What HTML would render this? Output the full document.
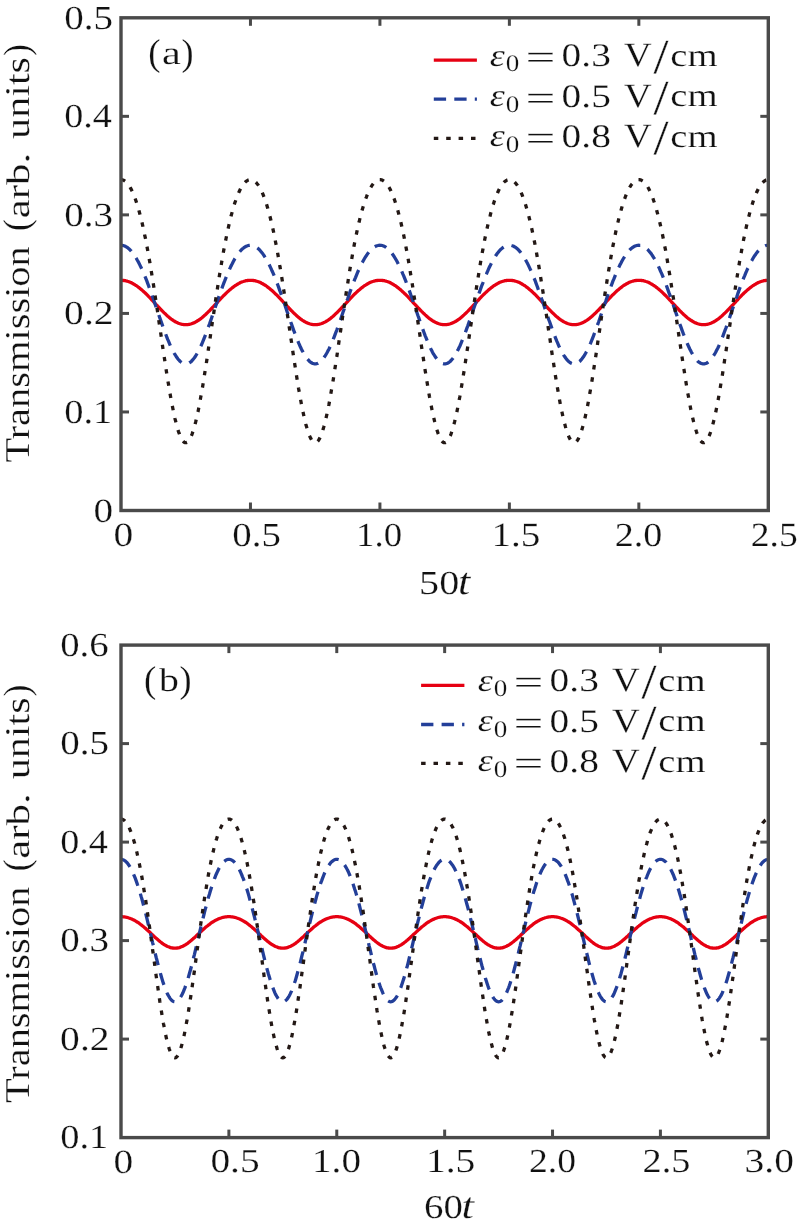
<!DOCTYPE html>
<html lang="en"><head><meta charset="utf-8"><title>Transmission vs time</title>
<style>html,body{margin:0;padding:0;background:#fff}svg{display:block}</style></head>
<body>
<svg width="799" height="1226" viewBox="0 0 799 1226">
<rect width="799" height="1226" fill="#fff"/>
<clipPath id="cp1"><rect x="121.0" y="17.8" width="647.3" height="492.7"/></clipPath>
<g clip-path="url(#cp1)" fill="none" stroke-width="3.3">
<polyline stroke="#e60012" points="121.0,280.3 121.7,280.3 122.4,280.3 123.2,280.4 123.9,280.5 124.6,280.6 125.3,280.7 126.0,280.9 126.8,281.0 127.5,281.3 128.2,281.5 128.9,281.7 129.6,282.0 130.3,282.3 131.1,282.6 131.8,283.0 132.5,283.4 133.2,283.8 133.9,284.2 134.7,284.6 135.4,285.1 136.1,285.5 136.8,286.0 137.5,286.5 138.3,287.1 139.0,287.6 139.7,288.2 140.4,288.8 141.1,289.4 141.9,290.0 142.6,290.6 143.3,291.3 144.0,291.9 144.7,292.6 145.5,293.3 146.2,294.0 146.9,294.7 147.6,295.4 148.3,296.2 149.0,296.9 149.8,297.7 150.5,298.4 151.2,299.2 151.9,300.0 152.6,300.7 153.4,301.5 154.1,302.3 154.8,303.1 155.5,303.8 156.2,304.6 157.0,305.4 157.7,306.2 158.4,306.9 159.1,307.7 159.8,308.5 160.6,309.2 161.3,310.0 162.0,310.7 162.7,311.4 163.4,312.1 164.2,312.9 164.9,313.5 165.6,314.2 166.3,314.9 167.0,315.6 167.7,316.2 168.5,316.8 169.2,317.4 169.9,318.0 170.6,318.6 171.3,319.1 172.1,319.6 172.8,320.1 173.5,320.6 174.2,321.0 174.9,321.5 175.7,321.9 176.4,322.3 177.1,322.6 177.8,322.9 178.5,323.2 179.3,323.5 180.0,323.8 180.7,324.0 181.4,324.2 182.1,324.3 182.9,324.5 183.6,324.6 184.3,324.6 185.0,324.7 185.7,324.7 186.4,324.7 187.2,324.6 187.9,324.6 188.6,324.5 189.3,324.3 190.0,324.2 190.8,324.0 191.5,323.8 192.2,323.5 192.9,323.2 193.6,322.9 194.4,322.6 195.1,322.3 195.8,321.9 196.5,321.5 197.2,321.0 198.0,320.6 198.7,320.1 199.4,319.6 200.1,319.1 200.8,318.6 201.6,318.0 202.3,317.4 203.0,316.8 203.7,316.2 204.4,315.6 205.1,314.9 205.9,314.2 206.6,313.5 207.3,312.9 208.0,312.1 208.7,311.4 209.5,310.7 210.2,310.0 210.9,309.2 211.6,308.5 212.3,307.7 213.1,306.9 213.8,306.2 214.5,305.4 215.2,304.6 215.9,303.8 216.7,303.1 217.4,302.3 218.1,301.5 218.8,300.7 219.5,300.0 220.3,299.2 221.0,298.4 221.7,297.7 222.4,296.9 223.1,296.2 223.8,295.4 224.6,294.7 225.3,294.0 226.0,293.3 226.7,292.6 227.4,291.9 228.2,291.3 228.9,290.6 229.6,290.0 230.3,289.4 231.0,288.8 231.8,288.2 232.5,287.6 233.2,287.1 233.9,286.5 234.6,286.0 235.4,285.5 236.1,285.1 236.8,284.6 237.5,284.2 238.2,283.8 239.0,283.4 239.7,283.0 240.4,282.6 241.1,282.3 241.8,282.0 242.5,281.7 243.3,281.5 244.0,281.3 244.7,281.0 245.4,280.9 246.1,280.7 246.9,280.6 247.6,280.5 248.3,280.4 249.0,280.3 249.7,280.3 250.5,280.3 251.2,280.3 251.9,280.3 252.6,280.4 253.3,280.5 254.1,280.6 254.8,280.7 255.5,280.9 256.2,281.0 256.9,281.3 257.7,281.5 258.4,281.7 259.1,282.0 259.8,282.3 260.5,282.6 261.2,283.0 262.0,283.4 262.7,283.8 263.4,284.2 264.1,284.6 264.8,285.1 265.6,285.5 266.3,286.0 267.0,286.5 267.7,287.1 268.4,287.6 269.2,288.2 269.9,288.8 270.6,289.4 271.3,290.0 272.0,290.6 272.8,291.3 273.5,291.9 274.2,292.6 274.9,293.3 275.6,294.0 276.4,294.7 277.1,295.4 277.8,296.2 278.5,296.9 279.2,297.7 279.9,298.4 280.7,299.2 281.4,300.0 282.1,300.7 282.8,301.5 283.5,302.3 284.3,303.1 285.0,303.8 285.7,304.6 286.4,305.4 287.1,306.2 287.9,306.9 288.6,307.7 289.3,308.5 290.0,309.2 290.7,310.0 291.5,310.7 292.2,311.4 292.9,312.1 293.6,312.9 294.3,313.5 295.1,314.2 295.8,314.9 296.5,315.6 297.2,316.2 297.9,316.8 298.6,317.4 299.4,318.0 300.1,318.6 300.8,319.1 301.5,319.6 302.2,320.1 303.0,320.6 303.7,321.0 304.4,321.5 305.1,321.9 305.8,322.3 306.6,322.6 307.3,322.9 308.0,323.2 308.7,323.5 309.4,323.8 310.2,324.0 310.9,324.2 311.6,324.3 312.3,324.5 313.0,324.6 313.8,324.6 314.5,324.7 315.2,324.7 315.9,324.7 316.6,324.6 317.3,324.6 318.1,324.5 318.8,324.3 319.5,324.2 320.2,324.0 320.9,323.8 321.7,323.5 322.4,323.2 323.1,322.9 323.8,322.6 324.5,322.3 325.3,321.9 326.0,321.5 326.7,321.0 327.4,320.6 328.1,320.1 328.9,319.6 329.6,319.1 330.3,318.6 331.0,318.0 331.7,317.4 332.5,316.8 333.2,316.2 333.9,315.6 334.6,314.9 335.3,314.2 336.0,313.5 336.8,312.9 337.5,312.1 338.2,311.4 338.9,310.7 339.6,310.0 340.4,309.2 341.1,308.5 341.8,307.7 342.5,306.9 343.2,306.2 344.0,305.4 344.7,304.6 345.4,303.8 346.1,303.1 346.8,302.3 347.6,301.5 348.3,300.7 349.0,300.0 349.7,299.2 350.4,298.4 351.2,297.7 351.9,296.9 352.6,296.2 353.3,295.4 354.0,294.7 354.7,294.0 355.5,293.3 356.2,292.6 356.9,291.9 357.6,291.3 358.3,290.6 359.1,290.0 359.8,289.4 360.5,288.8 361.2,288.2 361.9,287.6 362.7,287.1 363.4,286.5 364.1,286.0 364.8,285.5 365.5,285.1 366.3,284.6 367.0,284.2 367.7,283.8 368.4,283.4 369.1,283.0 369.9,282.6 370.6,282.3 371.3,282.0 372.0,281.7 372.7,281.5 373.4,281.3 374.2,281.0 374.9,280.9 375.6,280.7 376.3,280.6 377.0,280.5 377.8,280.4 378.5,280.3 379.2,280.3 379.9,280.3 380.6,280.3 381.4,280.3 382.1,280.4 382.8,280.5 383.5,280.6 384.2,280.7 385.0,280.9 385.7,281.0 386.4,281.3 387.1,281.5 387.8,281.7 388.6,282.0 389.3,282.3 390.0,282.6 390.7,283.0 391.4,283.4 392.1,283.8 392.9,284.2 393.6,284.6 394.3,285.1 395.0,285.5 395.7,286.0 396.5,286.5 397.2,287.1 397.9,287.6 398.6,288.2 399.3,288.8 400.1,289.4 400.8,290.0 401.5,290.6 402.2,291.3 402.9,291.9 403.7,292.6 404.4,293.3 405.1,294.0 405.8,294.7 406.5,295.4 407.3,296.2 408.0,296.9 408.7,297.7 409.4,298.4 410.1,299.2 410.8,300.0 411.6,300.7 412.3,301.5 413.0,302.3 413.7,303.1 414.4,303.8 415.2,304.6 415.9,305.4 416.6,306.2 417.3,306.9 418.0,307.7 418.8,308.5 419.5,309.2 420.2,310.0 420.9,310.7 421.6,311.4 422.4,312.1 423.1,312.9 423.8,313.5 424.5,314.2 425.2,314.9 426.0,315.6 426.7,316.2 427.4,316.8 428.1,317.4 428.8,318.0 429.5,318.6 430.3,319.1 431.0,319.6 431.7,320.1 432.4,320.6 433.1,321.0 433.9,321.5 434.6,321.9 435.3,322.3 436.0,322.6 436.7,322.9 437.5,323.2 438.2,323.5 438.9,323.8 439.6,324.0 440.3,324.2 441.1,324.3 441.8,324.5 442.5,324.6 443.2,324.6 443.9,324.7 444.6,324.7 445.4,324.7 446.1,324.6 446.8,324.6 447.5,324.5 448.2,324.3 449.0,324.2 449.7,324.0 450.4,323.8 451.1,323.5 451.8,323.2 452.6,322.9 453.3,322.6 454.0,322.3 454.7,321.9 455.4,321.5 456.2,321.0 456.9,320.6 457.6,320.1 458.3,319.6 459.0,319.1 459.8,318.6 460.5,318.0 461.2,317.4 461.9,316.8 462.6,316.2 463.3,315.6 464.1,314.9 464.8,314.2 465.5,313.5 466.2,312.9 466.9,312.1 467.7,311.4 468.4,310.7 469.1,310.0 469.8,309.2 470.5,308.5 471.3,307.7 472.0,306.9 472.7,306.2 473.4,305.4 474.1,304.6 474.9,303.8 475.6,303.1 476.3,302.3 477.0,301.5 477.7,300.7 478.5,300.0 479.2,299.2 479.9,298.4 480.6,297.7 481.3,296.9 482.0,296.2 482.8,295.4 483.5,294.7 484.2,294.0 484.9,293.3 485.6,292.6 486.4,291.9 487.1,291.3 487.8,290.6 488.5,290.0 489.2,289.4 490.0,288.8 490.7,288.2 491.4,287.6 492.1,287.1 492.8,286.5 493.6,286.0 494.3,285.5 495.0,285.1 495.7,284.6 496.4,284.2 497.2,283.8 497.9,283.4 498.6,283.0 499.3,282.6 500.0,282.3 500.7,282.0 501.5,281.7 502.2,281.5 502.9,281.3 503.6,281.0 504.3,280.9 505.1,280.7 505.8,280.6 506.5,280.5 507.2,280.4 507.9,280.3 508.7,280.3 509.4,280.3 510.1,280.3 510.8,280.3 511.5,280.4 512.3,280.5 513.0,280.6 513.7,280.7 514.4,280.9 515.1,281.0 515.9,281.3 516.6,281.5 517.3,281.7 518.0,282.0 518.7,282.3 519.4,282.6 520.2,283.0 520.9,283.4 521.6,283.8 522.3,284.2 523.0,284.6 523.8,285.1 524.5,285.5 525.2,286.0 525.9,286.5 526.6,287.1 527.4,287.6 528.1,288.2 528.8,288.8 529.5,289.4 530.2,290.0 531.0,290.6 531.7,291.3 532.4,291.9 533.1,292.6 533.8,293.3 534.6,294.0 535.3,294.7 536.0,295.4 536.7,296.2 537.4,296.9 538.1,297.7 538.9,298.4 539.6,299.2 540.3,300.0 541.0,300.7 541.7,301.5 542.5,302.3 543.2,303.1 543.9,303.8 544.6,304.6 545.3,305.4 546.1,306.2 546.8,306.9 547.5,307.7 548.2,308.5 548.9,309.2 549.7,310.0 550.4,310.7 551.1,311.4 551.8,312.1 552.5,312.9 553.3,313.5 554.0,314.2 554.7,314.9 555.4,315.6 556.1,316.2 556.8,316.8 557.6,317.4 558.3,318.0 559.0,318.6 559.7,319.1 560.4,319.6 561.2,320.1 561.9,320.6 562.6,321.0 563.3,321.5 564.0,321.9 564.8,322.3 565.5,322.6 566.2,322.9 566.9,323.2 567.6,323.5 568.4,323.8 569.1,324.0 569.8,324.2 570.5,324.3 571.2,324.5 572.0,324.6 572.7,324.6 573.4,324.7 574.1,324.7 574.8,324.7 575.5,324.6 576.3,324.6 577.0,324.5 577.7,324.3 578.4,324.2 579.1,324.0 579.9,323.8 580.6,323.5 581.3,323.2 582.0,322.9 582.7,322.6 583.5,322.3 584.2,321.9 584.9,321.5 585.6,321.0 586.3,320.6 587.1,320.1 587.8,319.6 588.5,319.1 589.2,318.6 589.9,318.0 590.7,317.4 591.4,316.8 592.1,316.2 592.8,315.6 593.5,314.9 594.2,314.2 595.0,313.5 595.7,312.9 596.4,312.1 597.1,311.4 597.8,310.7 598.6,310.0 599.3,309.2 600.0,308.5 600.7,307.7 601.4,306.9 602.2,306.2 602.9,305.4 603.6,304.6 604.3,303.8 605.0,303.1 605.8,302.3 606.5,301.5 607.2,300.7 607.9,300.0 608.6,299.2 609.4,298.4 610.1,297.7 610.8,296.9 611.5,296.2 612.2,295.4 612.9,294.7 613.7,294.0 614.4,293.3 615.1,292.6 615.8,291.9 616.5,291.3 617.3,290.6 618.0,290.0 618.7,289.4 619.4,288.8 620.1,288.2 620.9,287.6 621.6,287.1 622.3,286.5 623.0,286.0 623.7,285.5 624.5,285.1 625.2,284.6 625.9,284.2 626.6,283.8 627.3,283.4 628.1,283.0 628.8,282.6 629.5,282.3 630.2,282.0 630.9,281.7 631.6,281.5 632.4,281.3 633.1,281.0 633.8,280.9 634.5,280.7 635.2,280.6 636.0,280.5 636.7,280.4 637.4,280.3 638.1,280.3 638.8,280.3 639.6,280.3 640.3,280.3 641.0,280.4 641.7,280.5 642.4,280.6 643.2,280.7 643.9,280.9 644.6,281.0 645.3,281.3 646.0,281.5 646.8,281.7 647.5,282.0 648.2,282.3 648.9,282.6 649.6,283.0 650.3,283.4 651.1,283.8 651.8,284.2 652.5,284.6 653.2,285.1 653.9,285.5 654.7,286.0 655.4,286.5 656.1,287.1 656.8,287.6 657.5,288.2 658.3,288.8 659.0,289.4 659.7,290.0 660.4,290.6 661.1,291.3 661.9,291.9 662.6,292.6 663.3,293.3 664.0,294.0 664.7,294.7 665.5,295.4 666.2,296.2 666.9,296.9 667.6,297.7 668.3,298.4 669.0,299.2 669.8,300.0 670.5,300.7 671.2,301.5 671.9,302.3 672.6,303.1 673.4,303.8 674.1,304.6 674.8,305.4 675.5,306.2 676.2,306.9 677.0,307.7 677.7,308.5 678.4,309.2 679.1,310.0 679.8,310.7 680.6,311.4 681.3,312.1 682.0,312.9 682.7,313.5 683.4,314.2 684.2,314.9 684.9,315.6 685.6,316.2 686.3,316.8 687.0,317.4 687.7,318.0 688.5,318.6 689.2,319.1 689.9,319.6 690.6,320.1 691.3,320.6 692.1,321.0 692.8,321.5 693.5,321.9 694.2,322.3 694.9,322.6 695.7,322.9 696.4,323.2 697.1,323.5 697.8,323.8 698.5,324.0 699.3,324.2 700.0,324.3 700.7,324.5 701.4,324.6 702.1,324.6 702.9,324.7 703.6,324.7 704.3,324.7 705.0,324.6 705.7,324.6 706.4,324.5 707.2,324.3 707.9,324.2 708.6,324.0 709.3,323.8 710.0,323.5 710.8,323.2 711.5,322.9 712.2,322.6 712.9,322.3 713.6,321.9 714.4,321.5 715.1,321.0 715.8,320.6 716.5,320.1 717.2,319.6 718.0,319.1 718.7,318.6 719.4,318.0 720.1,317.4 720.8,316.8 721.6,316.2 722.3,315.6 723.0,314.9 723.7,314.2 724.4,313.5 725.1,312.9 725.9,312.1 726.6,311.4 727.3,310.7 728.0,310.0 728.7,309.2 729.5,308.5 730.2,307.7 730.9,306.9 731.6,306.2 732.3,305.4 733.1,304.6 733.8,303.8 734.5,303.1 735.2,302.3 735.9,301.5 736.7,300.7 737.4,300.0 738.1,299.2 738.8,298.4 739.5,297.7 740.3,296.9 741.0,296.2 741.7,295.4 742.4,294.7 743.1,294.0 743.8,293.3 744.6,292.6 745.3,291.9 746.0,291.3 746.7,290.6 747.4,290.0 748.2,289.4 748.9,288.8 749.6,288.2 750.3,287.6 751.0,287.1 751.8,286.5 752.5,286.0 753.2,285.5 753.9,285.1 754.6,284.6 755.4,284.2 756.1,283.8 756.8,283.4 757.5,283.0 758.2,282.6 759.0,282.3 759.7,282.0 760.4,281.7 761.1,281.5 761.8,281.3 762.5,281.0 763.3,280.9 764.0,280.7 764.7,280.6 765.4,280.5 766.1,280.4 766.9,280.3 767.6,280.3 768.3,280.3"/>
<polyline stroke="#233f99" stroke-dasharray="12.3 8.2" points="121.0,245.2 121.7,245.3 122.4,245.3 123.2,245.5 123.9,245.7 124.6,246.0 125.3,246.3 126.0,246.7 126.8,247.1 127.5,247.6 128.2,248.2 128.9,248.8 129.6,249.4 130.3,250.2 131.1,251.0 131.8,251.8 132.5,252.7 133.2,253.6 133.9,254.7 134.7,255.7 135.4,256.8 136.1,258.0 136.8,259.2 137.5,260.5 138.3,261.8 139.0,263.2 139.7,264.6 140.4,266.1 141.1,267.6 141.9,269.1 142.6,270.8 143.3,272.4 144.0,274.1 144.7,275.8 145.5,277.6 146.2,279.4 146.9,281.2 147.6,283.1 148.3,285.0 149.0,286.9 149.8,288.9 150.5,290.9 151.2,292.9 151.9,294.9 152.6,297.0 153.4,299.0 154.1,301.1 154.8,303.2 155.5,305.3 156.2,307.4 157.0,309.5 157.7,311.6 158.4,313.7 159.1,315.8 159.8,317.9 160.6,320.0 161.3,322.0 162.0,324.1 162.7,326.1 163.4,328.1 164.2,330.1 164.9,332.0 165.6,333.9 166.3,335.8 167.0,337.6 167.7,339.4 168.5,341.2 169.2,342.9 169.9,344.6 170.6,346.2 171.3,347.7 172.1,349.2 172.8,350.6 173.5,352.0 174.2,353.3 174.9,354.5 175.7,355.7 176.4,356.8 177.1,357.8 177.8,358.8 178.5,359.6 179.3,360.4 180.0,361.2 180.7,361.8 181.4,362.3 182.1,362.8 182.9,363.2 183.6,363.5 184.3,363.7 185.0,363.8 185.7,363.9 186.4,363.8 187.2,363.7 187.9,363.5 188.6,363.2 189.3,362.8 190.0,362.3 190.8,361.8 191.5,361.2 192.2,360.4 192.9,359.6 193.6,358.8 194.4,357.8 195.1,356.8 195.8,355.7 196.5,354.5 197.2,353.3 198.0,352.0 198.7,350.6 199.4,349.2 200.1,347.7 200.8,346.2 201.6,344.6 202.3,342.9 203.0,341.2 203.7,339.4 204.4,337.6 205.1,335.8 205.9,333.9 206.6,332.0 207.3,330.1 208.0,328.1 208.7,326.1 209.5,324.1 210.2,322.0 210.9,320.0 211.6,317.9 212.3,315.8 213.1,313.7 213.8,311.6 214.5,309.5 215.2,307.4 215.9,305.3 216.7,303.2 217.4,301.1 218.1,299.0 218.8,297.0 219.5,294.9 220.3,292.9 221.0,290.9 221.7,288.9 222.4,286.9 223.1,285.0 223.8,283.1 224.6,281.2 225.3,279.4 226.0,277.6 226.7,275.8 227.4,274.1 228.2,272.4 228.9,270.8 229.6,269.1 230.3,267.6 231.0,266.1 231.8,264.6 232.5,263.2 233.2,261.8 233.9,260.5 234.6,259.2 235.4,258.0 236.1,256.8 236.8,255.7 237.5,254.7 238.2,253.6 239.0,252.7 239.7,251.8 240.4,251.0 241.1,250.2 241.8,249.4 242.5,248.8 243.3,248.2 244.0,247.6 244.7,247.1 245.4,246.7 246.1,246.3 246.9,246.0 247.6,245.7 248.3,245.5 249.0,245.3 249.7,245.3 250.5,245.2 251.2,245.3 251.9,245.3 252.6,245.5 253.3,245.7 254.1,246.0 254.8,246.3 255.5,246.7 256.2,247.1 256.9,247.6 257.7,248.2 258.4,248.8 259.1,249.4 259.8,250.2 260.5,251.0 261.2,251.8 262.0,252.7 262.7,253.6 263.4,254.7 264.1,255.7 264.8,256.8 265.6,258.0 266.3,259.2 267.0,260.5 267.7,261.8 268.4,263.2 269.2,264.6 269.9,266.1 270.6,267.6 271.3,269.1 272.0,270.8 272.8,272.4 273.5,274.1 274.2,275.8 274.9,277.6 275.6,279.4 276.4,281.2 277.1,283.1 277.8,285.0 278.5,286.9 279.2,288.9 279.9,290.9 280.7,292.9 281.4,294.9 282.1,297.0 282.8,299.0 283.5,301.1 284.3,303.2 285.0,305.3 285.7,307.4 286.4,309.5 287.1,311.6 287.9,313.7 288.6,315.8 289.3,317.9 290.0,320.0 290.7,322.0 291.5,324.1 292.2,326.1 292.9,328.1 293.6,330.1 294.3,332.0 295.1,333.9 295.8,335.8 296.5,337.6 297.2,339.4 297.9,341.2 298.6,342.9 299.4,344.6 300.1,346.2 300.8,347.7 301.5,349.2 302.2,350.6 303.0,352.0 303.7,353.3 304.4,354.5 305.1,355.7 305.8,356.8 306.6,357.8 307.3,358.8 308.0,359.6 308.7,360.4 309.4,361.2 310.2,361.8 310.9,362.3 311.6,362.8 312.3,363.2 313.0,363.5 313.8,363.7 314.5,363.8 315.2,363.9 315.9,363.8 316.6,363.7 317.3,363.5 318.1,363.2 318.8,362.8 319.5,362.3 320.2,361.8 320.9,361.2 321.7,360.4 322.4,359.6 323.1,358.8 323.8,357.8 324.5,356.8 325.3,355.7 326.0,354.5 326.7,353.3 327.4,352.0 328.1,350.6 328.9,349.2 329.6,347.7 330.3,346.2 331.0,344.6 331.7,342.9 332.5,341.2 333.2,339.4 333.9,337.6 334.6,335.8 335.3,333.9 336.0,332.0 336.8,330.1 337.5,328.1 338.2,326.1 338.9,324.1 339.6,322.0 340.4,320.0 341.1,317.9 341.8,315.8 342.5,313.7 343.2,311.6 344.0,309.5 344.7,307.4 345.4,305.3 346.1,303.2 346.8,301.1 347.6,299.0 348.3,297.0 349.0,294.9 349.7,292.9 350.4,290.9 351.2,288.9 351.9,286.9 352.6,285.0 353.3,283.1 354.0,281.2 354.7,279.4 355.5,277.6 356.2,275.8 356.9,274.1 357.6,272.4 358.3,270.8 359.1,269.1 359.8,267.6 360.5,266.1 361.2,264.6 361.9,263.2 362.7,261.8 363.4,260.5 364.1,259.2 364.8,258.0 365.5,256.8 366.3,255.7 367.0,254.7 367.7,253.6 368.4,252.7 369.1,251.8 369.9,251.0 370.6,250.2 371.3,249.4 372.0,248.8 372.7,248.2 373.4,247.6 374.2,247.1 374.9,246.7 375.6,246.3 376.3,246.0 377.0,245.7 377.8,245.5 378.5,245.3 379.2,245.3 379.9,245.2 380.6,245.3 381.4,245.3 382.1,245.5 382.8,245.7 383.5,246.0 384.2,246.3 385.0,246.7 385.7,247.1 386.4,247.6 387.1,248.2 387.8,248.8 388.6,249.4 389.3,250.2 390.0,251.0 390.7,251.8 391.4,252.7 392.1,253.6 392.9,254.7 393.6,255.7 394.3,256.8 395.0,258.0 395.7,259.2 396.5,260.5 397.2,261.8 397.9,263.2 398.6,264.6 399.3,266.1 400.1,267.6 400.8,269.1 401.5,270.8 402.2,272.4 402.9,274.1 403.7,275.8 404.4,277.6 405.1,279.4 405.8,281.2 406.5,283.1 407.3,285.0 408.0,286.9 408.7,288.9 409.4,290.9 410.1,292.9 410.8,294.9 411.6,297.0 412.3,299.0 413.0,301.1 413.7,303.2 414.4,305.3 415.2,307.4 415.9,309.5 416.6,311.6 417.3,313.7 418.0,315.8 418.8,317.9 419.5,320.0 420.2,322.0 420.9,324.1 421.6,326.1 422.4,328.1 423.1,330.1 423.8,332.0 424.5,333.9 425.2,335.8 426.0,337.6 426.7,339.4 427.4,341.2 428.1,342.9 428.8,344.6 429.5,346.2 430.3,347.7 431.0,349.2 431.7,350.6 432.4,352.0 433.1,353.3 433.9,354.5 434.6,355.7 435.3,356.8 436.0,357.8 436.7,358.8 437.5,359.6 438.2,360.4 438.9,361.2 439.6,361.8 440.3,362.3 441.1,362.8 441.8,363.2 442.5,363.5 443.2,363.7 443.9,363.8 444.6,363.9 445.4,363.8 446.1,363.7 446.8,363.5 447.5,363.2 448.2,362.8 449.0,362.3 449.7,361.8 450.4,361.2 451.1,360.4 451.8,359.6 452.6,358.8 453.3,357.8 454.0,356.8 454.7,355.7 455.4,354.5 456.2,353.3 456.9,352.0 457.6,350.6 458.3,349.2 459.0,347.7 459.8,346.2 460.5,344.6 461.2,342.9 461.9,341.2 462.6,339.4 463.3,337.6 464.1,335.8 464.8,333.9 465.5,332.0 466.2,330.1 466.9,328.1 467.7,326.1 468.4,324.1 469.1,322.0 469.8,320.0 470.5,317.9 471.3,315.8 472.0,313.7 472.7,311.6 473.4,309.5 474.1,307.4 474.9,305.3 475.6,303.2 476.3,301.1 477.0,299.0 477.7,297.0 478.5,294.9 479.2,292.9 479.9,290.9 480.6,288.9 481.3,286.9 482.0,285.0 482.8,283.1 483.5,281.2 484.2,279.4 484.9,277.6 485.6,275.8 486.4,274.1 487.1,272.4 487.8,270.8 488.5,269.1 489.2,267.6 490.0,266.1 490.7,264.6 491.4,263.2 492.1,261.8 492.8,260.5 493.6,259.2 494.3,258.0 495.0,256.8 495.7,255.7 496.4,254.7 497.2,253.6 497.9,252.7 498.6,251.8 499.3,251.0 500.0,250.2 500.7,249.4 501.5,248.8 502.2,248.2 502.9,247.6 503.6,247.1 504.3,246.7 505.1,246.3 505.8,246.0 506.5,245.7 507.2,245.5 507.9,245.3 508.7,245.3 509.4,245.2 510.1,245.3 510.8,245.3 511.5,245.5 512.3,245.7 513.0,246.0 513.7,246.3 514.4,246.7 515.1,247.1 515.9,247.6 516.6,248.2 517.3,248.8 518.0,249.4 518.7,250.2 519.4,251.0 520.2,251.8 520.9,252.7 521.6,253.6 522.3,254.7 523.0,255.7 523.8,256.8 524.5,258.0 525.2,259.2 525.9,260.5 526.6,261.8 527.4,263.2 528.1,264.6 528.8,266.1 529.5,267.6 530.2,269.1 531.0,270.8 531.7,272.4 532.4,274.1 533.1,275.8 533.8,277.6 534.6,279.4 535.3,281.2 536.0,283.1 536.7,285.0 537.4,286.9 538.1,288.9 538.9,290.9 539.6,292.9 540.3,294.9 541.0,297.0 541.7,299.0 542.5,301.1 543.2,303.2 543.9,305.3 544.6,307.4 545.3,309.5 546.1,311.6 546.8,313.7 547.5,315.8 548.2,317.9 548.9,320.0 549.7,322.0 550.4,324.1 551.1,326.1 551.8,328.1 552.5,330.1 553.3,332.0 554.0,333.9 554.7,335.8 555.4,337.6 556.1,339.4 556.8,341.2 557.6,342.9 558.3,344.6 559.0,346.2 559.7,347.7 560.4,349.2 561.2,350.6 561.9,352.0 562.6,353.3 563.3,354.5 564.0,355.7 564.8,356.8 565.5,357.8 566.2,358.8 566.9,359.6 567.6,360.4 568.4,361.2 569.1,361.8 569.8,362.3 570.5,362.8 571.2,363.2 572.0,363.5 572.7,363.7 573.4,363.8 574.1,363.9 574.8,363.8 575.5,363.7 576.3,363.5 577.0,363.2 577.7,362.8 578.4,362.3 579.1,361.8 579.9,361.2 580.6,360.4 581.3,359.6 582.0,358.8 582.7,357.8 583.5,356.8 584.2,355.7 584.9,354.5 585.6,353.3 586.3,352.0 587.1,350.6 587.8,349.2 588.5,347.7 589.2,346.2 589.9,344.6 590.7,342.9 591.4,341.2 592.1,339.4 592.8,337.6 593.5,335.8 594.2,333.9 595.0,332.0 595.7,330.1 596.4,328.1 597.1,326.1 597.8,324.1 598.6,322.0 599.3,320.0 600.0,317.9 600.7,315.8 601.4,313.7 602.2,311.6 602.9,309.5 603.6,307.4 604.3,305.3 605.0,303.2 605.8,301.1 606.5,299.0 607.2,297.0 607.9,294.9 608.6,292.9 609.4,290.9 610.1,288.9 610.8,286.9 611.5,285.0 612.2,283.1 612.9,281.2 613.7,279.4 614.4,277.6 615.1,275.8 615.8,274.1 616.5,272.4 617.3,270.8 618.0,269.1 618.7,267.6 619.4,266.1 620.1,264.6 620.9,263.2 621.6,261.8 622.3,260.5 623.0,259.2 623.7,258.0 624.5,256.8 625.2,255.7 625.9,254.7 626.6,253.6 627.3,252.7 628.1,251.8 628.8,251.0 629.5,250.2 630.2,249.4 630.9,248.8 631.6,248.2 632.4,247.6 633.1,247.1 633.8,246.7 634.5,246.3 635.2,246.0 636.0,245.7 636.7,245.5 637.4,245.3 638.1,245.3 638.8,245.2 639.6,245.3 640.3,245.3 641.0,245.5 641.7,245.7 642.4,246.0 643.2,246.3 643.9,246.7 644.6,247.1 645.3,247.6 646.0,248.2 646.8,248.8 647.5,249.4 648.2,250.2 648.9,251.0 649.6,251.8 650.3,252.7 651.1,253.6 651.8,254.7 652.5,255.7 653.2,256.8 653.9,258.0 654.7,259.2 655.4,260.5 656.1,261.8 656.8,263.2 657.5,264.6 658.3,266.1 659.0,267.6 659.7,269.1 660.4,270.8 661.1,272.4 661.9,274.1 662.6,275.8 663.3,277.6 664.0,279.4 664.7,281.2 665.5,283.1 666.2,285.0 666.9,286.9 667.6,288.9 668.3,290.9 669.0,292.9 669.8,294.9 670.5,297.0 671.2,299.0 671.9,301.1 672.6,303.2 673.4,305.3 674.1,307.4 674.8,309.5 675.5,311.6 676.2,313.7 677.0,315.8 677.7,317.9 678.4,320.0 679.1,322.0 679.8,324.1 680.6,326.1 681.3,328.1 682.0,330.1 682.7,332.0 683.4,333.9 684.2,335.8 684.9,337.6 685.6,339.4 686.3,341.2 687.0,342.9 687.7,344.6 688.5,346.2 689.2,347.7 689.9,349.2 690.6,350.6 691.3,352.0 692.1,353.3 692.8,354.5 693.5,355.7 694.2,356.8 694.9,357.8 695.7,358.8 696.4,359.6 697.1,360.4 697.8,361.2 698.5,361.8 699.3,362.3 700.0,362.8 700.7,363.2 701.4,363.5 702.1,363.7 702.9,363.8 703.6,363.9 704.3,363.8 705.0,363.7 705.7,363.5 706.4,363.2 707.2,362.8 707.9,362.3 708.6,361.8 709.3,361.2 710.0,360.4 710.8,359.6 711.5,358.8 712.2,357.8 712.9,356.8 713.6,355.7 714.4,354.5 715.1,353.3 715.8,352.0 716.5,350.6 717.2,349.2 718.0,347.7 718.7,346.2 719.4,344.6 720.1,342.9 720.8,341.2 721.6,339.4 722.3,337.6 723.0,335.8 723.7,333.9 724.4,332.0 725.1,330.1 725.9,328.1 726.6,326.1 727.3,324.1 728.0,322.0 728.7,320.0 729.5,317.9 730.2,315.8 730.9,313.7 731.6,311.6 732.3,309.5 733.1,307.4 733.8,305.3 734.5,303.2 735.2,301.1 735.9,299.0 736.7,297.0 737.4,294.9 738.1,292.9 738.8,290.9 739.5,288.9 740.3,286.9 741.0,285.0 741.7,283.1 742.4,281.2 743.1,279.4 743.8,277.6 744.6,275.8 745.3,274.1 746.0,272.4 746.7,270.8 747.4,269.1 748.2,267.6 748.9,266.1 749.6,264.6 750.3,263.2 751.0,261.8 751.8,260.5 752.5,259.2 753.2,258.0 753.9,256.8 754.6,255.7 755.4,254.7 756.1,253.6 756.8,252.7 757.5,251.8 758.2,251.0 759.0,250.2 759.7,249.4 760.4,248.8 761.1,248.2 761.8,247.6 762.5,247.1 763.3,246.7 764.0,246.3 764.7,246.0 765.4,245.7 766.1,245.5 766.9,245.3 767.6,245.3 768.3,245.2"/>
<polyline stroke="#231815" stroke-dasharray="4.5 7.9" points="121.0,179.6 121.7,179.6 122.4,179.8 123.2,180.0 123.9,180.4 124.6,180.8 125.3,181.3 126.0,181.9 126.8,182.6 127.5,183.5 128.2,184.4 128.9,185.4 129.6,186.5 130.3,187.7 131.1,189.1 131.8,190.5 132.5,192.0 133.2,193.7 133.9,195.4 134.7,197.3 135.4,199.2 136.1,201.3 136.8,203.5 137.5,205.8 138.3,208.2 139.0,210.8 139.7,213.4 140.4,216.2 141.1,219.0 141.9,222.0 142.6,225.1 143.3,228.3 144.0,231.7 144.7,235.1 145.5,238.7 146.2,242.3 146.9,246.1 147.6,249.9 148.3,253.9 149.0,258.0 149.8,262.1 150.5,266.4 151.2,270.7 151.9,275.1 152.6,279.6 153.4,284.2 154.1,288.8 154.8,293.5 155.5,298.2 156.2,303.0 157.0,307.8 157.7,312.7 158.4,317.6 159.1,322.5 159.8,327.4 160.6,332.3 161.3,337.2 162.0,342.1 162.7,347.0 163.4,351.9 164.2,356.7 164.9,361.4 165.6,366.2 166.3,370.8 167.0,375.4 167.7,379.9 168.5,384.3 169.2,388.6 169.9,392.8 170.6,396.8 171.3,400.8 172.1,404.6 172.8,408.3 173.5,411.8 174.2,415.1 174.9,418.3 175.7,421.4 176.4,424.2 177.1,426.9 177.8,429.3 178.5,431.6 179.3,433.7 180.0,435.6 180.7,437.2 181.4,438.7 182.1,439.9 182.9,440.9 183.6,441.7 184.3,442.3 185.0,442.6 185.7,442.7 186.4,442.6 187.2,442.3 187.9,441.7 188.6,440.9 189.3,439.9 190.0,438.7 190.8,437.2 191.5,435.6 192.2,433.7 192.9,431.6 193.6,429.3 194.4,426.9 195.1,424.2 195.8,421.4 196.5,418.3 197.2,415.1 198.0,411.8 198.7,408.3 199.4,404.6 200.1,400.8 200.8,396.8 201.6,392.8 202.3,388.6 203.0,384.3 203.7,379.9 204.4,375.4 205.1,370.8 205.9,366.2 206.6,361.4 207.3,356.7 208.0,351.9 208.7,347.0 209.5,342.1 210.2,337.2 210.9,332.3 211.6,327.4 212.3,322.5 213.1,317.6 213.8,312.7 214.5,307.8 215.2,303.0 215.9,298.2 216.7,293.5 217.4,288.8 218.1,284.2 218.8,279.6 219.5,275.1 220.3,270.7 221.0,266.4 221.7,262.1 222.4,258.0 223.1,253.9 223.8,249.9 224.6,246.1 225.3,242.3 226.0,238.7 226.7,235.1 227.4,231.7 228.2,228.3 228.9,225.1 229.6,222.0 230.3,219.0 231.0,216.2 231.8,213.4 232.5,210.8 233.2,208.2 233.9,205.8 234.6,203.5 235.4,201.3 236.1,199.2 236.8,197.3 237.5,195.4 238.2,193.7 239.0,192.0 239.7,190.5 240.4,189.1 241.1,187.7 241.8,186.5 242.5,185.4 243.3,184.4 244.0,183.5 244.7,182.6 245.4,181.9 246.1,181.3 246.9,180.8 247.6,180.4 248.3,180.0 249.0,179.8 249.7,179.6 250.5,179.6 251.2,179.6 251.9,179.8 252.6,180.0 253.3,180.4 254.1,180.8 254.8,181.3 255.5,181.9 256.2,182.6 256.9,183.5 257.7,184.4 258.4,185.4 259.1,186.5 259.8,187.7 260.5,189.1 261.2,190.5 262.0,192.0 262.7,193.7 263.4,195.4 264.1,197.3 264.8,199.2 265.6,201.3 266.3,203.5 267.0,205.8 267.7,208.2 268.4,210.8 269.2,213.4 269.9,216.2 270.6,219.0 271.3,222.0 272.0,225.1 272.8,228.3 273.5,231.7 274.2,235.1 274.9,238.7 275.6,242.3 276.4,246.1 277.1,249.9 277.8,253.9 278.5,258.0 279.2,262.1 279.9,266.4 280.7,270.7 281.4,275.1 282.1,279.6 282.8,284.2 283.5,288.8 284.3,293.5 285.0,298.2 285.7,303.0 286.4,307.8 287.1,312.7 287.9,317.6 288.6,322.5 289.3,327.4 290.0,332.3 290.7,337.2 291.5,342.1 292.2,347.0 292.9,351.9 293.6,356.7 294.3,361.4 295.1,366.2 295.8,370.8 296.5,375.4 297.2,379.9 297.9,384.3 298.6,388.6 299.4,392.8 300.1,396.8 300.8,400.8 301.5,404.6 302.2,408.3 303.0,411.8 303.7,415.1 304.4,418.3 305.1,421.4 305.8,424.2 306.6,426.9 307.3,429.3 308.0,431.6 308.7,433.7 309.4,435.6 310.2,437.2 310.9,438.7 311.6,439.9 312.3,440.9 313.0,441.7 313.8,442.3 314.5,442.6 315.2,442.7 315.9,442.6 316.6,442.3 317.3,441.7 318.1,440.9 318.8,439.9 319.5,438.7 320.2,437.2 320.9,435.6 321.7,433.7 322.4,431.6 323.1,429.3 323.8,426.9 324.5,424.2 325.3,421.4 326.0,418.3 326.7,415.1 327.4,411.8 328.1,408.3 328.9,404.6 329.6,400.8 330.3,396.8 331.0,392.8 331.7,388.6 332.5,384.3 333.2,379.9 333.9,375.4 334.6,370.8 335.3,366.2 336.0,361.4 336.8,356.7 337.5,351.9 338.2,347.0 338.9,342.1 339.6,337.2 340.4,332.3 341.1,327.4 341.8,322.5 342.5,317.6 343.2,312.7 344.0,307.8 344.7,303.0 345.4,298.2 346.1,293.5 346.8,288.8 347.6,284.2 348.3,279.6 349.0,275.1 349.7,270.7 350.4,266.4 351.2,262.1 351.9,258.0 352.6,253.9 353.3,249.9 354.0,246.1 354.7,242.3 355.5,238.7 356.2,235.1 356.9,231.7 357.6,228.3 358.3,225.1 359.1,222.0 359.8,219.0 360.5,216.2 361.2,213.4 361.9,210.8 362.7,208.2 363.4,205.8 364.1,203.5 364.8,201.3 365.5,199.2 366.3,197.3 367.0,195.4 367.7,193.7 368.4,192.0 369.1,190.5 369.9,189.1 370.6,187.7 371.3,186.5 372.0,185.4 372.7,184.4 373.4,183.5 374.2,182.6 374.9,181.9 375.6,181.3 376.3,180.8 377.0,180.4 377.8,180.0 378.5,179.8 379.2,179.6 379.9,179.6 380.6,179.6 381.4,179.8 382.1,180.0 382.8,180.4 383.5,180.8 384.2,181.3 385.0,181.9 385.7,182.6 386.4,183.5 387.1,184.4 387.8,185.4 388.6,186.5 389.3,187.7 390.0,189.1 390.7,190.5 391.4,192.0 392.1,193.7 392.9,195.4 393.6,197.3 394.3,199.2 395.0,201.3 395.7,203.5 396.5,205.8 397.2,208.2 397.9,210.8 398.6,213.4 399.3,216.2 400.1,219.0 400.8,222.0 401.5,225.1 402.2,228.3 402.9,231.7 403.7,235.1 404.4,238.7 405.1,242.3 405.8,246.1 406.5,249.9 407.3,253.9 408.0,258.0 408.7,262.1 409.4,266.4 410.1,270.7 410.8,275.1 411.6,279.6 412.3,284.2 413.0,288.8 413.7,293.5 414.4,298.2 415.2,303.0 415.9,307.8 416.6,312.7 417.3,317.6 418.0,322.5 418.8,327.4 419.5,332.3 420.2,337.2 420.9,342.1 421.6,347.0 422.4,351.9 423.1,356.7 423.8,361.4 424.5,366.2 425.2,370.8 426.0,375.4 426.7,379.9 427.4,384.3 428.1,388.6 428.8,392.8 429.5,396.8 430.3,400.8 431.0,404.6 431.7,408.3 432.4,411.8 433.1,415.1 433.9,418.3 434.6,421.4 435.3,424.2 436.0,426.9 436.7,429.3 437.5,431.6 438.2,433.7 438.9,435.6 439.6,437.2 440.3,438.7 441.1,439.9 441.8,440.9 442.5,441.7 443.2,442.3 443.9,442.6 444.6,442.7 445.4,442.6 446.1,442.3 446.8,441.7 447.5,440.9 448.2,439.9 449.0,438.7 449.7,437.2 450.4,435.6 451.1,433.7 451.8,431.6 452.6,429.3 453.3,426.9 454.0,424.2 454.7,421.4 455.4,418.3 456.2,415.1 456.9,411.8 457.6,408.3 458.3,404.6 459.0,400.8 459.8,396.8 460.5,392.8 461.2,388.6 461.9,384.3 462.6,379.9 463.3,375.4 464.1,370.8 464.8,366.2 465.5,361.4 466.2,356.7 466.9,351.9 467.7,347.0 468.4,342.1 469.1,337.2 469.8,332.3 470.5,327.4 471.3,322.5 472.0,317.6 472.7,312.7 473.4,307.8 474.1,303.0 474.9,298.2 475.6,293.5 476.3,288.8 477.0,284.2 477.7,279.6 478.5,275.1 479.2,270.7 479.9,266.4 480.6,262.1 481.3,258.0 482.0,253.9 482.8,249.9 483.5,246.1 484.2,242.3 484.9,238.7 485.6,235.1 486.4,231.7 487.1,228.3 487.8,225.1 488.5,222.0 489.2,219.0 490.0,216.2 490.7,213.4 491.4,210.8 492.1,208.2 492.8,205.8 493.6,203.5 494.3,201.3 495.0,199.2 495.7,197.3 496.4,195.4 497.2,193.7 497.9,192.0 498.6,190.5 499.3,189.1 500.0,187.7 500.7,186.5 501.5,185.4 502.2,184.4 502.9,183.5 503.6,182.6 504.3,181.9 505.1,181.3 505.8,180.8 506.5,180.4 507.2,180.0 507.9,179.8 508.7,179.6 509.4,179.6 510.1,179.6 510.8,179.8 511.5,180.0 512.3,180.4 513.0,180.8 513.7,181.3 514.4,181.9 515.1,182.6 515.9,183.5 516.6,184.4 517.3,185.4 518.0,186.5 518.7,187.7 519.4,189.1 520.2,190.5 520.9,192.0 521.6,193.7 522.3,195.4 523.0,197.3 523.8,199.2 524.5,201.3 525.2,203.5 525.9,205.8 526.6,208.2 527.4,210.8 528.1,213.4 528.8,216.2 529.5,219.0 530.2,222.0 531.0,225.1 531.7,228.3 532.4,231.7 533.1,235.1 533.8,238.7 534.6,242.3 535.3,246.1 536.0,249.9 536.7,253.9 537.4,258.0 538.1,262.1 538.9,266.4 539.6,270.7 540.3,275.1 541.0,279.6 541.7,284.2 542.5,288.8 543.2,293.5 543.9,298.2 544.6,303.0 545.3,307.8 546.1,312.7 546.8,317.6 547.5,322.5 548.2,327.4 548.9,332.3 549.7,337.2 550.4,342.1 551.1,347.0 551.8,351.9 552.5,356.7 553.3,361.4 554.0,366.2 554.7,370.8 555.4,375.4 556.1,379.9 556.8,384.3 557.6,388.6 558.3,392.8 559.0,396.8 559.7,400.8 560.4,404.6 561.2,408.3 561.9,411.8 562.6,415.1 563.3,418.3 564.0,421.4 564.8,424.2 565.5,426.9 566.2,429.3 566.9,431.6 567.6,433.7 568.4,435.6 569.1,437.2 569.8,438.7 570.5,439.9 571.2,440.9 572.0,441.7 572.7,442.3 573.4,442.6 574.1,442.7 574.8,442.6 575.5,442.3 576.3,441.7 577.0,440.9 577.7,439.9 578.4,438.7 579.1,437.2 579.9,435.6 580.6,433.7 581.3,431.6 582.0,429.3 582.7,426.9 583.5,424.2 584.2,421.4 584.9,418.3 585.6,415.1 586.3,411.8 587.1,408.3 587.8,404.6 588.5,400.8 589.2,396.8 589.9,392.8 590.7,388.6 591.4,384.3 592.1,379.9 592.8,375.4 593.5,370.8 594.2,366.2 595.0,361.4 595.7,356.7 596.4,351.9 597.1,347.0 597.8,342.1 598.6,337.2 599.3,332.3 600.0,327.4 600.7,322.5 601.4,317.6 602.2,312.7 602.9,307.8 603.6,303.0 604.3,298.2 605.0,293.5 605.8,288.8 606.5,284.2 607.2,279.6 607.9,275.1 608.6,270.7 609.4,266.4 610.1,262.1 610.8,258.0 611.5,253.9 612.2,249.9 612.9,246.1 613.7,242.3 614.4,238.7 615.1,235.1 615.8,231.7 616.5,228.3 617.3,225.1 618.0,222.0 618.7,219.0 619.4,216.2 620.1,213.4 620.9,210.8 621.6,208.2 622.3,205.8 623.0,203.5 623.7,201.3 624.5,199.2 625.2,197.3 625.9,195.4 626.6,193.7 627.3,192.0 628.1,190.5 628.8,189.1 629.5,187.7 630.2,186.5 630.9,185.4 631.6,184.4 632.4,183.5 633.1,182.6 633.8,181.9 634.5,181.3 635.2,180.8 636.0,180.4 636.7,180.0 637.4,179.8 638.1,179.6 638.8,179.6 639.6,179.6 640.3,179.8 641.0,180.0 641.7,180.4 642.4,180.8 643.2,181.3 643.9,181.9 644.6,182.6 645.3,183.5 646.0,184.4 646.8,185.4 647.5,186.5 648.2,187.7 648.9,189.1 649.6,190.5 650.3,192.0 651.1,193.7 651.8,195.4 652.5,197.3 653.2,199.2 653.9,201.3 654.7,203.5 655.4,205.8 656.1,208.2 656.8,210.8 657.5,213.4 658.3,216.2 659.0,219.0 659.7,222.0 660.4,225.1 661.1,228.3 661.9,231.7 662.6,235.1 663.3,238.7 664.0,242.3 664.7,246.1 665.5,249.9 666.2,253.9 666.9,258.0 667.6,262.1 668.3,266.4 669.0,270.7 669.8,275.1 670.5,279.6 671.2,284.2 671.9,288.8 672.6,293.5 673.4,298.2 674.1,303.0 674.8,307.8 675.5,312.7 676.2,317.6 677.0,322.5 677.7,327.4 678.4,332.3 679.1,337.2 679.8,342.1 680.6,347.0 681.3,351.9 682.0,356.7 682.7,361.4 683.4,366.2 684.2,370.8 684.9,375.4 685.6,379.9 686.3,384.3 687.0,388.6 687.7,392.8 688.5,396.8 689.2,400.8 689.9,404.6 690.6,408.3 691.3,411.8 692.1,415.1 692.8,418.3 693.5,421.4 694.2,424.2 694.9,426.9 695.7,429.3 696.4,431.6 697.1,433.7 697.8,435.6 698.5,437.2 699.3,438.7 700.0,439.9 700.7,440.9 701.4,441.7 702.1,442.3 702.9,442.6 703.6,442.7 704.3,442.6 705.0,442.3 705.7,441.7 706.4,440.9 707.2,439.9 707.9,438.7 708.6,437.2 709.3,435.6 710.0,433.7 710.8,431.6 711.5,429.3 712.2,426.9 712.9,424.2 713.6,421.4 714.4,418.3 715.1,415.1 715.8,411.8 716.5,408.3 717.2,404.6 718.0,400.8 718.7,396.8 719.4,392.8 720.1,388.6 720.8,384.3 721.6,379.9 722.3,375.4 723.0,370.8 723.7,366.2 724.4,361.4 725.1,356.7 725.9,351.9 726.6,347.0 727.3,342.1 728.0,337.2 728.7,332.3 729.5,327.4 730.2,322.5 730.9,317.6 731.6,312.7 732.3,307.8 733.1,303.0 733.8,298.2 734.5,293.5 735.2,288.8 735.9,284.2 736.7,279.6 737.4,275.1 738.1,270.7 738.8,266.4 739.5,262.1 740.3,258.0 741.0,253.9 741.7,249.9 742.4,246.1 743.1,242.3 743.8,238.7 744.6,235.1 745.3,231.7 746.0,228.3 746.7,225.1 747.4,222.0 748.2,219.0 748.9,216.2 749.6,213.4 750.3,210.8 751.0,208.2 751.8,205.8 752.5,203.5 753.2,201.3 753.9,199.2 754.6,197.3 755.4,195.4 756.1,193.7 756.8,192.0 757.5,190.5 758.2,189.1 759.0,187.7 759.7,186.5 760.4,185.4 761.1,184.4 761.8,183.5 762.5,182.6 763.3,181.9 764.0,181.3 764.7,180.8 765.4,180.4 766.1,180.0 766.9,179.8 767.6,179.6 768.3,179.6"/>
</g>
<g stroke="#4a4a4a" stroke-width="3.0">
<line x1="250.46" y1="510.5" x2="250.46" y2="502.5"/>
<line x1="250.46" y1="17.8" x2="250.46" y2="25.8"/>
<line x1="379.92" y1="510.5" x2="379.92" y2="502.5"/>
<line x1="379.92" y1="17.8" x2="379.92" y2="25.8"/>
<line x1="509.38" y1="510.5" x2="509.38" y2="502.5"/>
<line x1="509.38" y1="17.8" x2="509.38" y2="25.8"/>
<line x1="638.84" y1="510.5" x2="638.84" y2="502.5"/>
<line x1="638.84" y1="17.8" x2="638.84" y2="25.8"/>
<line x1="121.0" y1="116.34" x2="129" y2="116.34"/>
<line x1="768.3" y1="116.34" x2="760.3" y2="116.34"/>
<line x1="121.0" y1="214.88" x2="129" y2="214.88"/>
<line x1="768.3" y1="214.88" x2="760.3" y2="214.88"/>
<line x1="121.0" y1="313.42" x2="129" y2="313.42"/>
<line x1="768.3" y1="313.42" x2="760.3" y2="313.42"/>
<line x1="121.0" y1="411.96" x2="129" y2="411.96"/>
<line x1="768.3" y1="411.96" x2="760.3" y2="411.96"/>
</g>
<rect x="121.0" y="17.8" width="647.3" height="492.7" fill="none" stroke="#4a4a4a" stroke-width="3.4"/>
<clipPath id="cp2"><rect x="121.0" y="645.1" width="647.3" height="492.5"/></clipPath>
<g clip-path="url(#cp2)" fill="none" stroke-width="3.3">
<polyline stroke="#e60012" points="121.0,916.7 121.7,916.7 122.4,916.7 123.2,916.8 123.9,916.8 124.6,916.9 125.3,917.0 126.0,917.2 126.8,917.3 127.5,917.5 128.2,917.7 128.9,918.0 129.6,918.2 130.3,918.5 131.1,918.8 131.8,919.1 132.5,919.4 133.2,919.7 133.9,920.1 134.7,920.5 135.4,920.9 136.1,921.3 136.8,921.8 137.5,922.2 138.3,922.7 139.0,923.2 139.7,923.7 140.4,924.3 141.1,924.8 141.9,925.4 142.6,926.0 143.3,926.5 144.0,927.1 144.7,927.8 145.5,928.4 146.2,929.0 146.9,929.7 147.6,930.3 148.3,931.0 149.0,931.6 149.8,932.3 150.5,933.0 151.2,933.7 151.9,934.3 152.6,935.0 153.4,935.7 154.1,936.4 154.8,937.0 155.5,937.7 156.2,938.3 157.0,939.0 157.7,939.6 158.4,940.2 159.1,940.8 159.8,941.4 160.6,942.0 161.3,942.5 162.0,943.1 162.7,943.6 163.4,944.1 164.2,944.6 164.9,945.0 165.6,945.4 166.3,945.8 167.0,946.2 167.7,946.5 168.5,946.8 169.2,947.1 169.9,947.4 170.6,947.6 171.3,947.8 172.1,947.9 172.8,948.0 173.5,948.1 174.2,948.2 174.9,948.2 175.7,948.2 176.4,948.1 177.1,948.0 177.8,947.9 178.5,947.8 179.3,947.6 180.0,947.4 180.7,947.1 181.4,946.8 182.1,946.5 182.9,946.2 183.6,945.8 184.3,945.4 185.0,945.0 185.7,944.6 186.4,944.1 187.2,943.6 187.9,943.1 188.6,942.5 189.3,942.0 190.0,941.4 190.8,940.8 191.5,940.2 192.2,939.6 192.9,939.0 193.6,938.3 194.4,937.7 195.1,937.0 195.8,936.4 196.5,935.7 197.2,935.0 198.0,934.3 198.7,933.7 199.4,933.0 200.1,932.3 200.8,931.6 201.6,931.0 202.3,930.3 203.0,929.7 203.7,929.0 204.4,928.4 205.1,927.8 205.9,927.1 206.6,926.5 207.3,926.0 208.0,925.4 208.7,924.8 209.5,924.3 210.2,923.7 210.9,923.2 211.6,922.7 212.3,922.2 213.1,921.8 213.8,921.3 214.5,920.9 215.2,920.5 215.9,920.1 216.7,919.7 217.4,919.4 218.1,919.1 218.8,918.8 219.5,918.5 220.3,918.2 221.0,918.0 221.7,917.7 222.4,917.5 223.1,917.3 223.8,917.2 224.6,917.0 225.3,916.9 226.0,916.8 226.7,916.8 227.4,916.7 228.2,916.7 228.9,916.7 229.6,916.7 230.3,916.7 231.0,916.8 231.8,916.8 232.5,916.9 233.2,917.0 233.9,917.2 234.6,917.3 235.4,917.5 236.1,917.7 236.8,918.0 237.5,918.2 238.2,918.5 239.0,918.8 239.7,919.1 240.4,919.4 241.1,919.7 241.8,920.1 242.5,920.5 243.3,920.9 244.0,921.3 244.7,921.8 245.4,922.2 246.1,922.7 246.9,923.2 247.6,923.7 248.3,924.3 249.0,924.8 249.7,925.4 250.5,926.0 251.2,926.5 251.9,927.1 252.6,927.8 253.3,928.4 254.1,929.0 254.8,929.7 255.5,930.3 256.2,931.0 256.9,931.6 257.7,932.3 258.4,933.0 259.1,933.7 259.8,934.3 260.5,935.0 261.2,935.7 262.0,936.4 262.7,937.0 263.4,937.7 264.1,938.3 264.8,939.0 265.6,939.6 266.3,940.2 267.0,940.8 267.7,941.4 268.4,942.0 269.2,942.5 269.9,943.1 270.6,943.6 271.3,944.1 272.0,944.6 272.8,945.0 273.5,945.4 274.2,945.8 274.9,946.2 275.6,946.5 276.4,946.8 277.1,947.1 277.8,947.4 278.5,947.6 279.2,947.8 279.9,947.9 280.7,948.0 281.4,948.1 282.1,948.2 282.8,948.2 283.5,948.2 284.3,948.1 285.0,948.0 285.7,947.9 286.4,947.8 287.1,947.6 287.9,947.4 288.6,947.1 289.3,946.8 290.0,946.5 290.7,946.2 291.5,945.8 292.2,945.4 292.9,945.0 293.6,944.6 294.3,944.1 295.1,943.6 295.8,943.1 296.5,942.5 297.2,942.0 297.9,941.4 298.6,940.8 299.4,940.2 300.1,939.6 300.8,939.0 301.5,938.3 302.2,937.7 303.0,937.0 303.7,936.4 304.4,935.7 305.1,935.0 305.8,934.3 306.6,933.7 307.3,933.0 308.0,932.3 308.7,931.6 309.4,931.0 310.2,930.3 310.9,929.7 311.6,929.0 312.3,928.4 313.0,927.8 313.8,927.1 314.5,926.5 315.2,926.0 315.9,925.4 316.6,924.8 317.3,924.3 318.1,923.7 318.8,923.2 319.5,922.7 320.2,922.2 320.9,921.8 321.7,921.3 322.4,920.9 323.1,920.5 323.8,920.1 324.5,919.7 325.3,919.4 326.0,919.1 326.7,918.8 327.4,918.5 328.1,918.2 328.9,918.0 329.6,917.7 330.3,917.5 331.0,917.3 331.7,917.2 332.5,917.0 333.2,916.9 333.9,916.8 334.6,916.8 335.3,916.7 336.0,916.7 336.8,916.7 337.5,916.7 338.2,916.7 338.9,916.8 339.6,916.8 340.4,916.9 341.1,917.0 341.8,917.2 342.5,917.3 343.2,917.5 344.0,917.7 344.7,918.0 345.4,918.2 346.1,918.5 346.8,918.8 347.6,919.1 348.3,919.4 349.0,919.7 349.7,920.1 350.4,920.5 351.2,920.9 351.9,921.3 352.6,921.8 353.3,922.2 354.0,922.7 354.7,923.2 355.5,923.7 356.2,924.3 356.9,924.8 357.6,925.4 358.3,926.0 359.1,926.5 359.8,927.1 360.5,927.8 361.2,928.4 361.9,929.0 362.7,929.7 363.4,930.3 364.1,931.0 364.8,931.6 365.5,932.3 366.3,933.0 367.0,933.7 367.7,934.3 368.4,935.0 369.1,935.7 369.9,936.4 370.6,937.0 371.3,937.7 372.0,938.3 372.7,939.0 373.4,939.6 374.2,940.2 374.9,940.8 375.6,941.4 376.3,942.0 377.0,942.5 377.8,943.1 378.5,943.6 379.2,944.1 379.9,944.6 380.6,945.0 381.4,945.4 382.1,945.8 382.8,946.2 383.5,946.5 384.2,946.8 385.0,947.1 385.7,947.4 386.4,947.6 387.1,947.8 387.8,947.9 388.6,948.0 389.3,948.1 390.0,948.2 390.7,948.2 391.4,948.2 392.1,948.1 392.9,948.0 393.6,947.9 394.3,947.8 395.0,947.6 395.7,947.4 396.5,947.1 397.2,946.8 397.9,946.5 398.6,946.2 399.3,945.8 400.1,945.4 400.8,945.0 401.5,944.6 402.2,944.1 402.9,943.6 403.7,943.1 404.4,942.5 405.1,942.0 405.8,941.4 406.5,940.8 407.3,940.2 408.0,939.6 408.7,939.0 409.4,938.3 410.1,937.7 410.8,937.0 411.6,936.4 412.3,935.7 413.0,935.0 413.7,934.3 414.4,933.7 415.2,933.0 415.9,932.3 416.6,931.6 417.3,931.0 418.0,930.3 418.8,929.7 419.5,929.0 420.2,928.4 420.9,927.8 421.6,927.1 422.4,926.5 423.1,926.0 423.8,925.4 424.5,924.8 425.2,924.3 426.0,923.7 426.7,923.2 427.4,922.7 428.1,922.2 428.8,921.8 429.5,921.3 430.3,920.9 431.0,920.5 431.7,920.1 432.4,919.7 433.1,919.4 433.9,919.1 434.6,918.8 435.3,918.5 436.0,918.2 436.7,918.0 437.5,917.7 438.2,917.5 438.9,917.3 439.6,917.2 440.3,917.0 441.1,916.9 441.8,916.8 442.5,916.8 443.2,916.7 443.9,916.7 444.6,916.7 445.4,916.7 446.1,916.7 446.8,916.8 447.5,916.8 448.2,916.9 449.0,917.0 449.7,917.2 450.4,917.3 451.1,917.5 451.8,917.7 452.6,918.0 453.3,918.2 454.0,918.5 454.7,918.8 455.4,919.1 456.2,919.4 456.9,919.7 457.6,920.1 458.3,920.5 459.0,920.9 459.8,921.3 460.5,921.8 461.2,922.2 461.9,922.7 462.6,923.2 463.3,923.7 464.1,924.3 464.8,924.8 465.5,925.4 466.2,926.0 466.9,926.5 467.7,927.1 468.4,927.8 469.1,928.4 469.8,929.0 470.5,929.7 471.3,930.3 472.0,931.0 472.7,931.6 473.4,932.3 474.1,933.0 474.9,933.7 475.6,934.3 476.3,935.0 477.0,935.7 477.7,936.4 478.5,937.0 479.2,937.7 479.9,938.3 480.6,939.0 481.3,939.6 482.0,940.2 482.8,940.8 483.5,941.4 484.2,942.0 484.9,942.5 485.6,943.1 486.4,943.6 487.1,944.1 487.8,944.6 488.5,945.0 489.2,945.4 490.0,945.8 490.7,946.2 491.4,946.5 492.1,946.8 492.8,947.1 493.6,947.4 494.3,947.6 495.0,947.8 495.7,947.9 496.4,948.0 497.2,948.1 497.9,948.2 498.6,948.2 499.3,948.2 500.0,948.1 500.7,948.0 501.5,947.9 502.2,947.8 502.9,947.6 503.6,947.4 504.3,947.1 505.1,946.8 505.8,946.5 506.5,946.2 507.2,945.8 507.9,945.4 508.7,945.0 509.4,944.6 510.1,944.1 510.8,943.6 511.5,943.1 512.3,942.5 513.0,942.0 513.7,941.4 514.4,940.8 515.1,940.2 515.9,939.6 516.6,939.0 517.3,938.3 518.0,937.7 518.7,937.0 519.4,936.4 520.2,935.7 520.9,935.0 521.6,934.3 522.3,933.7 523.0,933.0 523.8,932.3 524.5,931.6 525.2,931.0 525.9,930.3 526.6,929.7 527.4,929.0 528.1,928.4 528.8,927.8 529.5,927.1 530.2,926.5 531.0,926.0 531.7,925.4 532.4,924.8 533.1,924.3 533.8,923.7 534.6,923.2 535.3,922.7 536.0,922.2 536.7,921.8 537.4,921.3 538.1,920.9 538.9,920.5 539.6,920.1 540.3,919.7 541.0,919.4 541.7,919.1 542.5,918.8 543.2,918.5 543.9,918.2 544.6,918.0 545.3,917.7 546.1,917.5 546.8,917.3 547.5,917.2 548.2,917.0 548.9,916.9 549.7,916.8 550.4,916.8 551.1,916.7 551.8,916.7 552.5,916.7 553.3,916.7 554.0,916.7 554.7,916.8 555.4,916.8 556.1,916.9 556.8,917.0 557.6,917.2 558.3,917.3 559.0,917.5 559.7,917.7 560.4,918.0 561.2,918.2 561.9,918.5 562.6,918.8 563.3,919.1 564.0,919.4 564.8,919.7 565.5,920.1 566.2,920.5 566.9,920.9 567.6,921.3 568.4,921.8 569.1,922.2 569.8,922.7 570.5,923.2 571.2,923.7 572.0,924.3 572.7,924.8 573.4,925.4 574.1,926.0 574.8,926.5 575.5,927.1 576.3,927.8 577.0,928.4 577.7,929.0 578.4,929.7 579.1,930.3 579.9,931.0 580.6,931.6 581.3,932.3 582.0,933.0 582.7,933.7 583.5,934.3 584.2,935.0 584.9,935.7 585.6,936.4 586.3,937.0 587.1,937.7 587.8,938.3 588.5,939.0 589.2,939.6 589.9,940.2 590.7,940.8 591.4,941.4 592.1,942.0 592.8,942.5 593.5,943.1 594.2,943.6 595.0,944.1 595.7,944.6 596.4,945.0 597.1,945.4 597.8,945.8 598.6,946.2 599.3,946.5 600.0,946.8 600.7,947.1 601.4,947.4 602.2,947.6 602.9,947.8 603.6,947.9 604.3,948.0 605.0,948.1 605.8,948.2 606.5,948.2 607.2,948.2 607.9,948.1 608.6,948.0 609.4,947.9 610.1,947.8 610.8,947.6 611.5,947.4 612.2,947.1 612.9,946.8 613.7,946.5 614.4,946.2 615.1,945.8 615.8,945.4 616.5,945.0 617.3,944.6 618.0,944.1 618.7,943.6 619.4,943.1 620.1,942.5 620.9,942.0 621.6,941.4 622.3,940.8 623.0,940.2 623.7,939.6 624.5,939.0 625.2,938.3 625.9,937.7 626.6,937.0 627.3,936.4 628.1,935.7 628.8,935.0 629.5,934.3 630.2,933.7 630.9,933.0 631.6,932.3 632.4,931.6 633.1,931.0 633.8,930.3 634.5,929.7 635.2,929.0 636.0,928.4 636.7,927.8 637.4,927.1 638.1,926.5 638.8,926.0 639.6,925.4 640.3,924.8 641.0,924.3 641.7,923.7 642.4,923.2 643.2,922.7 643.9,922.2 644.6,921.8 645.3,921.3 646.0,920.9 646.8,920.5 647.5,920.1 648.2,919.7 648.9,919.4 649.6,919.1 650.3,918.8 651.1,918.5 651.8,918.2 652.5,918.0 653.2,917.7 653.9,917.5 654.7,917.3 655.4,917.2 656.1,917.0 656.8,916.9 657.5,916.8 658.3,916.8 659.0,916.7 659.7,916.7 660.4,916.7 661.1,916.7 661.9,916.7 662.6,916.8 663.3,916.8 664.0,916.9 664.7,917.0 665.5,917.2 666.2,917.3 666.9,917.5 667.6,917.7 668.3,918.0 669.0,918.2 669.8,918.5 670.5,918.8 671.2,919.1 671.9,919.4 672.6,919.7 673.4,920.1 674.1,920.5 674.8,920.9 675.5,921.3 676.2,921.8 677.0,922.2 677.7,922.7 678.4,923.2 679.1,923.7 679.8,924.3 680.6,924.8 681.3,925.4 682.0,926.0 682.7,926.5 683.4,927.1 684.2,927.8 684.9,928.4 685.6,929.0 686.3,929.7 687.0,930.3 687.7,931.0 688.5,931.6 689.2,932.3 689.9,933.0 690.6,933.7 691.3,934.3 692.1,935.0 692.8,935.7 693.5,936.4 694.2,937.0 694.9,937.7 695.7,938.3 696.4,939.0 697.1,939.6 697.8,940.2 698.5,940.8 699.3,941.4 700.0,942.0 700.7,942.5 701.4,943.1 702.1,943.6 702.9,944.1 703.6,944.6 704.3,945.0 705.0,945.4 705.7,945.8 706.4,946.2 707.2,946.5 707.9,946.8 708.6,947.1 709.3,947.4 710.0,947.6 710.8,947.8 711.5,947.9 712.2,948.0 712.9,948.1 713.6,948.2 714.4,948.2 715.1,948.2 715.8,948.1 716.5,948.0 717.2,947.9 718.0,947.8 718.7,947.6 719.4,947.4 720.1,947.1 720.8,946.8 721.6,946.5 722.3,946.2 723.0,945.8 723.7,945.4 724.4,945.0 725.1,944.6 725.9,944.1 726.6,943.6 727.3,943.1 728.0,942.5 728.7,942.0 729.5,941.4 730.2,940.8 730.9,940.2 731.6,939.6 732.3,939.0 733.1,938.3 733.8,937.7 734.5,937.0 735.2,936.4 735.9,935.7 736.7,935.0 737.4,934.3 738.1,933.7 738.8,933.0 739.5,932.3 740.3,931.6 741.0,931.0 741.7,930.3 742.4,929.7 743.1,929.0 743.8,928.4 744.6,927.8 745.3,927.1 746.0,926.5 746.7,926.0 747.4,925.4 748.2,924.8 748.9,924.3 749.6,923.7 750.3,923.2 751.0,922.7 751.8,922.2 752.5,921.8 753.2,921.3 753.9,920.9 754.6,920.5 755.4,920.1 756.1,919.7 756.8,919.4 757.5,919.1 758.2,918.8 759.0,918.5 759.7,918.2 760.4,918.0 761.1,917.7 761.8,917.5 762.5,917.3 763.3,917.2 764.0,917.0 764.7,916.9 765.4,916.8 766.1,916.8 766.9,916.7 767.6,916.7 768.3,916.7"/>
<polyline stroke="#233f99" stroke-dasharray="12.3 8.2" points="121.0,859.3 121.7,859.3 122.4,859.5 123.2,859.7 123.9,860.1 124.6,860.5 125.3,861.1 126.0,861.7 126.8,862.4 127.5,863.3 128.2,864.2 128.9,865.2 129.6,866.3 130.3,867.5 131.1,868.8 131.8,870.2 132.5,871.7 133.2,873.3 133.9,875.0 134.7,876.8 135.4,878.6 136.1,880.6 136.8,882.6 137.5,884.7 138.3,886.9 139.0,889.2 139.7,891.5 140.4,893.9 141.1,896.4 141.9,899.0 142.6,901.6 143.3,904.3 144.0,907.0 144.7,909.8 145.5,912.6 146.2,915.5 146.9,918.4 147.6,921.4 148.3,924.4 149.0,927.4 149.8,930.4 150.5,933.4 151.2,936.5 151.9,939.5 152.6,942.6 153.4,945.6 154.1,948.6 154.8,951.6 155.5,954.6 156.2,957.5 157.0,960.4 157.7,963.3 158.4,966.0 159.1,968.8 159.8,971.4 160.6,974.0 161.3,976.5 162.0,978.9 162.7,981.2 163.4,983.4 164.2,985.6 164.9,987.6 165.6,989.4 166.3,991.2 167.0,992.9 167.7,994.4 168.5,995.8 169.2,997.0 169.9,998.1 170.6,999.1 171.3,999.9 172.1,1000.6 172.8,1001.1 173.5,1001.5 174.2,1001.7 174.9,1001.8 175.7,1001.7 176.4,1001.5 177.1,1001.1 177.8,1000.6 178.5,999.9 179.3,999.1 180.0,998.1 180.7,997.0 181.4,995.8 182.1,994.4 182.9,992.9 183.6,991.2 184.3,989.4 185.0,987.6 185.7,985.6 186.4,983.4 187.2,981.2 187.9,978.9 188.6,976.5 189.3,974.0 190.0,971.4 190.8,968.8 191.5,966.0 192.2,963.3 192.9,960.4 193.6,957.5 194.4,954.6 195.1,951.6 195.8,948.6 196.5,945.6 197.2,942.6 198.0,939.5 198.7,936.5 199.4,933.4 200.1,930.4 200.8,927.4 201.6,924.4 202.3,921.4 203.0,918.4 203.7,915.5 204.4,912.6 205.1,909.8 205.9,907.0 206.6,904.3 207.3,901.6 208.0,899.0 208.7,896.4 209.5,893.9 210.2,891.5 210.9,889.2 211.6,886.9 212.3,884.7 213.1,882.6 213.8,880.6 214.5,878.6 215.2,876.8 215.9,875.0 216.7,873.3 217.4,871.7 218.1,870.2 218.8,868.8 219.5,867.5 220.3,866.3 221.0,865.2 221.7,864.2 222.4,863.3 223.1,862.4 223.8,861.7 224.6,861.1 225.3,860.5 226.0,860.1 226.7,859.7 227.4,859.5 228.2,859.3 228.9,859.3 229.6,859.3 230.3,859.5 231.0,859.7 231.8,860.1 232.5,860.5 233.2,861.1 233.9,861.7 234.6,862.4 235.4,863.3 236.1,864.2 236.8,865.2 237.5,866.3 238.2,867.5 239.0,868.8 239.7,870.2 240.4,871.7 241.1,873.3 241.8,875.0 242.5,876.8 243.3,878.6 244.0,880.6 244.7,882.6 245.4,884.7 246.1,886.9 246.9,889.2 247.6,891.5 248.3,893.9 249.0,896.4 249.7,899.0 250.5,901.6 251.2,904.3 251.9,907.0 252.6,909.8 253.3,912.6 254.1,915.5 254.8,918.4 255.5,921.4 256.2,924.4 256.9,927.4 257.7,930.4 258.4,933.4 259.1,936.5 259.8,939.5 260.5,942.6 261.2,945.6 262.0,948.6 262.7,951.6 263.4,954.6 264.1,957.5 264.8,960.4 265.6,963.3 266.3,966.0 267.0,968.8 267.7,971.4 268.4,974.0 269.2,976.5 269.9,978.9 270.6,981.2 271.3,983.4 272.0,985.6 272.8,987.6 273.5,989.4 274.2,991.2 274.9,992.9 275.6,994.4 276.4,995.8 277.1,997.0 277.8,998.1 278.5,999.1 279.2,999.9 279.9,1000.6 280.7,1001.1 281.4,1001.5 282.1,1001.7 282.8,1001.8 283.5,1001.7 284.3,1001.5 285.0,1001.1 285.7,1000.6 286.4,999.9 287.1,999.1 287.9,998.1 288.6,997.0 289.3,995.8 290.0,994.4 290.7,992.9 291.5,991.2 292.2,989.4 292.9,987.6 293.6,985.6 294.3,983.4 295.1,981.2 295.8,978.9 296.5,976.5 297.2,974.0 297.9,971.4 298.6,968.8 299.4,966.0 300.1,963.3 300.8,960.4 301.5,957.5 302.2,954.6 303.0,951.6 303.7,948.6 304.4,945.6 305.1,942.6 305.8,939.5 306.6,936.5 307.3,933.4 308.0,930.4 308.7,927.4 309.4,924.4 310.2,921.4 310.9,918.4 311.6,915.5 312.3,912.6 313.0,909.8 313.8,907.0 314.5,904.3 315.2,901.6 315.9,899.0 316.6,896.4 317.3,893.9 318.1,891.5 318.8,889.2 319.5,886.9 320.2,884.7 320.9,882.6 321.7,880.6 322.4,878.6 323.1,876.8 323.8,875.0 324.5,873.3 325.3,871.7 326.0,870.2 326.7,868.8 327.4,867.5 328.1,866.3 328.9,865.2 329.6,864.2 330.3,863.3 331.0,862.4 331.7,861.7 332.5,861.1 333.2,860.5 333.9,860.1 334.6,859.7 335.3,859.5 336.0,859.3 336.8,859.3 337.5,859.3 338.2,859.5 338.9,859.7 339.6,860.1 340.4,860.5 341.1,861.1 341.8,861.7 342.5,862.4 343.2,863.3 344.0,864.2 344.7,865.2 345.4,866.3 346.1,867.5 346.8,868.8 347.6,870.2 348.3,871.7 349.0,873.3 349.7,875.0 350.4,876.8 351.2,878.6 351.9,880.6 352.6,882.6 353.3,884.7 354.0,886.9 354.7,889.2 355.5,891.5 356.2,893.9 356.9,896.4 357.6,899.0 358.3,901.6 359.1,904.3 359.8,907.0 360.5,909.8 361.2,912.6 361.9,915.5 362.7,918.4 363.4,921.4 364.1,924.4 364.8,927.4 365.5,930.4 366.3,933.4 367.0,936.5 367.7,939.5 368.4,942.6 369.1,945.6 369.9,948.6 370.6,951.6 371.3,954.6 372.0,957.5 372.7,960.4 373.4,963.3 374.2,966.0 374.9,968.8 375.6,971.4 376.3,974.0 377.0,976.5 377.8,978.9 378.5,981.2 379.2,983.4 379.9,985.6 380.6,987.6 381.4,989.4 382.1,991.2 382.8,992.9 383.5,994.4 384.2,995.8 385.0,997.0 385.7,998.1 386.4,999.1 387.1,999.9 387.8,1000.6 388.6,1001.1 389.3,1001.5 390.0,1001.7 390.7,1001.8 391.4,1001.7 392.1,1001.5 392.9,1001.1 393.6,1000.6 394.3,999.9 395.0,999.1 395.7,998.1 396.5,997.0 397.2,995.8 397.9,994.4 398.6,992.9 399.3,991.2 400.1,989.4 400.8,987.6 401.5,985.6 402.2,983.4 402.9,981.2 403.7,978.9 404.4,976.5 405.1,974.0 405.8,971.4 406.5,968.8 407.3,966.0 408.0,963.3 408.7,960.4 409.4,957.5 410.1,954.6 410.8,951.6 411.6,948.6 412.3,945.6 413.0,942.6 413.7,939.5 414.4,936.5 415.2,933.4 415.9,930.4 416.6,927.4 417.3,924.4 418.0,921.4 418.8,918.4 419.5,915.5 420.2,912.6 420.9,909.8 421.6,907.0 422.4,904.3 423.1,901.6 423.8,899.0 424.5,896.4 425.2,893.9 426.0,891.5 426.7,889.2 427.4,886.9 428.1,884.7 428.8,882.6 429.5,880.6 430.3,878.6 431.0,876.8 431.7,875.0 432.4,873.3 433.1,871.7 433.9,870.2 434.6,868.8 435.3,867.5 436.0,866.3 436.7,865.2 437.5,864.2 438.2,863.3 438.9,862.4 439.6,861.7 440.3,861.1 441.1,860.5 441.8,860.1 442.5,859.7 443.2,859.5 443.9,859.3 444.6,859.3 445.4,859.3 446.1,859.5 446.8,859.7 447.5,860.1 448.2,860.5 449.0,861.1 449.7,861.7 450.4,862.4 451.1,863.3 451.8,864.2 452.6,865.2 453.3,866.3 454.0,867.5 454.7,868.8 455.4,870.2 456.2,871.7 456.9,873.3 457.6,875.0 458.3,876.8 459.0,878.6 459.8,880.6 460.5,882.6 461.2,884.7 461.9,886.9 462.6,889.2 463.3,891.5 464.1,893.9 464.8,896.4 465.5,899.0 466.2,901.6 466.9,904.3 467.7,907.0 468.4,909.8 469.1,912.6 469.8,915.5 470.5,918.4 471.3,921.4 472.0,924.4 472.7,927.4 473.4,930.4 474.1,933.4 474.9,936.5 475.6,939.5 476.3,942.6 477.0,945.6 477.7,948.6 478.5,951.6 479.2,954.6 479.9,957.5 480.6,960.4 481.3,963.3 482.0,966.0 482.8,968.8 483.5,971.4 484.2,974.0 484.9,976.5 485.6,978.9 486.4,981.2 487.1,983.4 487.8,985.6 488.5,987.6 489.2,989.4 490.0,991.2 490.7,992.9 491.4,994.4 492.1,995.8 492.8,997.0 493.6,998.1 494.3,999.1 495.0,999.9 495.7,1000.6 496.4,1001.1 497.2,1001.5 497.9,1001.7 498.6,1001.8 499.3,1001.7 500.0,1001.5 500.7,1001.1 501.5,1000.6 502.2,999.9 502.9,999.1 503.6,998.1 504.3,997.0 505.1,995.8 505.8,994.4 506.5,992.9 507.2,991.2 507.9,989.4 508.7,987.6 509.4,985.6 510.1,983.4 510.8,981.2 511.5,978.9 512.3,976.5 513.0,974.0 513.7,971.4 514.4,968.8 515.1,966.0 515.9,963.3 516.6,960.4 517.3,957.5 518.0,954.6 518.7,951.6 519.4,948.6 520.2,945.6 520.9,942.6 521.6,939.5 522.3,936.5 523.0,933.4 523.8,930.4 524.5,927.4 525.2,924.4 525.9,921.4 526.6,918.4 527.4,915.5 528.1,912.6 528.8,909.8 529.5,907.0 530.2,904.3 531.0,901.6 531.7,899.0 532.4,896.4 533.1,893.9 533.8,891.5 534.6,889.2 535.3,886.9 536.0,884.7 536.7,882.6 537.4,880.6 538.1,878.6 538.9,876.8 539.6,875.0 540.3,873.3 541.0,871.7 541.7,870.2 542.5,868.8 543.2,867.5 543.9,866.3 544.6,865.2 545.3,864.2 546.1,863.3 546.8,862.4 547.5,861.7 548.2,861.1 548.9,860.5 549.7,860.1 550.4,859.7 551.1,859.5 551.8,859.3 552.5,859.3 553.3,859.3 554.0,859.5 554.7,859.7 555.4,860.1 556.1,860.5 556.8,861.1 557.6,861.7 558.3,862.4 559.0,863.3 559.7,864.2 560.4,865.2 561.2,866.3 561.9,867.5 562.6,868.8 563.3,870.2 564.0,871.7 564.8,873.3 565.5,875.0 566.2,876.8 566.9,878.6 567.6,880.6 568.4,882.6 569.1,884.7 569.8,886.9 570.5,889.2 571.2,891.5 572.0,893.9 572.7,896.4 573.4,899.0 574.1,901.6 574.8,904.3 575.5,907.0 576.3,909.8 577.0,912.6 577.7,915.5 578.4,918.4 579.1,921.4 579.9,924.4 580.6,927.4 581.3,930.4 582.0,933.4 582.7,936.5 583.5,939.5 584.2,942.6 584.9,945.6 585.6,948.6 586.3,951.6 587.1,954.6 587.8,957.5 588.5,960.4 589.2,963.3 589.9,966.0 590.7,968.8 591.4,971.4 592.1,974.0 592.8,976.5 593.5,978.9 594.2,981.2 595.0,983.4 595.7,985.6 596.4,987.6 597.1,989.4 597.8,991.2 598.6,992.9 599.3,994.4 600.0,995.8 600.7,997.0 601.4,998.1 602.2,999.1 602.9,999.9 603.6,1000.6 604.3,1001.1 605.0,1001.5 605.8,1001.7 606.5,1001.8 607.2,1001.7 607.9,1001.5 608.6,1001.1 609.4,1000.6 610.1,999.9 610.8,999.1 611.5,998.1 612.2,997.0 612.9,995.8 613.7,994.4 614.4,992.9 615.1,991.2 615.8,989.4 616.5,987.6 617.3,985.6 618.0,983.4 618.7,981.2 619.4,978.9 620.1,976.5 620.9,974.0 621.6,971.4 622.3,968.8 623.0,966.0 623.7,963.3 624.5,960.4 625.2,957.5 625.9,954.6 626.6,951.6 627.3,948.6 628.1,945.6 628.8,942.6 629.5,939.5 630.2,936.5 630.9,933.4 631.6,930.4 632.4,927.4 633.1,924.4 633.8,921.4 634.5,918.4 635.2,915.5 636.0,912.6 636.7,909.8 637.4,907.0 638.1,904.3 638.8,901.6 639.6,899.0 640.3,896.4 641.0,893.9 641.7,891.5 642.4,889.2 643.2,886.9 643.9,884.7 644.6,882.6 645.3,880.6 646.0,878.6 646.8,876.8 647.5,875.0 648.2,873.3 648.9,871.7 649.6,870.2 650.3,868.8 651.1,867.5 651.8,866.3 652.5,865.2 653.2,864.2 653.9,863.3 654.7,862.4 655.4,861.7 656.1,861.1 656.8,860.5 657.5,860.1 658.3,859.7 659.0,859.5 659.7,859.3 660.4,859.3 661.1,859.3 661.9,859.5 662.6,859.7 663.3,860.1 664.0,860.5 664.7,861.1 665.5,861.7 666.2,862.4 666.9,863.3 667.6,864.2 668.3,865.2 669.0,866.3 669.8,867.5 670.5,868.8 671.2,870.2 671.9,871.7 672.6,873.3 673.4,875.0 674.1,876.8 674.8,878.6 675.5,880.6 676.2,882.6 677.0,884.7 677.7,886.9 678.4,889.2 679.1,891.5 679.8,893.9 680.6,896.4 681.3,899.0 682.0,901.6 682.7,904.3 683.4,907.0 684.2,909.8 684.9,912.6 685.6,915.5 686.3,918.4 687.0,921.4 687.7,924.4 688.5,927.4 689.2,930.4 689.9,933.4 690.6,936.5 691.3,939.5 692.1,942.6 692.8,945.6 693.5,948.6 694.2,951.6 694.9,954.6 695.7,957.5 696.4,960.4 697.1,963.3 697.8,966.0 698.5,968.8 699.3,971.4 700.0,974.0 700.7,976.5 701.4,978.9 702.1,981.2 702.9,983.4 703.6,985.6 704.3,987.6 705.0,989.4 705.7,991.2 706.4,992.9 707.2,994.4 707.9,995.8 708.6,997.0 709.3,998.1 710.0,999.1 710.8,999.9 711.5,1000.6 712.2,1001.1 712.9,1001.5 713.6,1001.7 714.4,1001.8 715.1,1001.7 715.8,1001.5 716.5,1001.1 717.2,1000.6 718.0,999.9 718.7,999.1 719.4,998.1 720.1,997.0 720.8,995.8 721.6,994.4 722.3,992.9 723.0,991.2 723.7,989.4 724.4,987.6 725.1,985.6 725.9,983.4 726.6,981.2 727.3,978.9 728.0,976.5 728.7,974.0 729.5,971.4 730.2,968.8 730.9,966.0 731.6,963.3 732.3,960.4 733.1,957.5 733.8,954.6 734.5,951.6 735.2,948.6 735.9,945.6 736.7,942.6 737.4,939.5 738.1,936.5 738.8,933.4 739.5,930.4 740.3,927.4 741.0,924.4 741.7,921.4 742.4,918.4 743.1,915.5 743.8,912.6 744.6,909.8 745.3,907.0 746.0,904.3 746.7,901.6 747.4,899.0 748.2,896.4 748.9,893.9 749.6,891.5 750.3,889.2 751.0,886.9 751.8,884.7 752.5,882.6 753.2,880.6 753.9,878.6 754.6,876.8 755.4,875.0 756.1,873.3 756.8,871.7 757.5,870.2 758.2,868.8 759.0,867.5 759.7,866.3 760.4,865.2 761.1,864.2 761.8,863.3 762.5,862.4 763.3,861.7 764.0,861.1 764.7,860.5 765.4,860.1 766.1,859.7 766.9,859.5 767.6,859.3 768.3,859.3"/>
<polyline stroke="#231815" stroke-dasharray="4.5 7.9" points="121.0,819.1 121.7,819.2 122.4,819.4 123.2,819.7 123.9,820.1 124.6,820.7 125.3,821.5 126.0,822.3 126.8,823.3 127.5,824.4 128.2,825.7 128.9,827.1 129.6,828.6 130.3,830.3 131.1,832.2 131.8,834.1 132.5,836.2 133.2,838.5 133.9,840.9 134.7,843.5 135.4,846.2 136.1,849.0 136.8,852.0 137.5,855.2 138.3,858.5 139.0,861.9 139.7,865.5 140.4,869.2 141.1,873.1 141.9,877.1 142.6,881.2 143.3,885.5 144.0,889.9 144.7,894.4 145.5,899.0 146.2,903.7 146.9,908.6 147.6,913.5 148.3,918.5 149.0,923.6 149.8,928.7 150.5,933.9 151.2,939.1 151.9,944.4 152.6,949.7 153.4,955.0 154.1,960.3 154.8,965.6 155.5,970.9 156.2,976.1 157.0,981.3 157.7,986.4 158.4,991.4 159.1,996.3 159.8,1001.2 160.6,1005.9 161.3,1010.5 162.0,1014.9 162.7,1019.2 163.4,1023.3 164.2,1027.2 164.9,1031.0 165.6,1034.5 166.3,1037.8 167.0,1040.9 167.7,1043.7 168.5,1046.3 169.2,1048.7 169.9,1050.8 170.6,1052.6 171.3,1054.2 172.1,1055.5 172.8,1056.5 173.5,1057.2 174.2,1057.6 174.9,1057.8 175.7,1057.6 176.4,1057.2 177.1,1056.5 177.8,1055.5 178.5,1054.2 179.3,1052.6 180.0,1050.8 180.7,1048.7 181.4,1046.3 182.1,1043.7 182.9,1040.9 183.6,1037.8 184.3,1034.5 185.0,1031.0 185.7,1027.2 186.4,1023.3 187.2,1019.2 187.9,1014.9 188.6,1010.5 189.3,1005.9 190.0,1001.2 190.8,996.3 191.5,991.4 192.2,986.4 192.9,981.3 193.6,976.1 194.4,970.9 195.1,965.6 195.8,960.3 196.5,955.0 197.2,949.7 198.0,944.4 198.7,939.1 199.4,933.9 200.1,928.7 200.8,923.6 201.6,918.5 202.3,913.5 203.0,908.6 203.7,903.7 204.4,899.0 205.1,894.4 205.9,889.9 206.6,885.5 207.3,881.2 208.0,877.1 208.7,873.1 209.5,869.2 210.2,865.5 210.9,861.9 211.6,858.5 212.3,855.2 213.1,852.0 213.8,849.0 214.5,846.2 215.2,843.5 215.9,840.9 216.7,838.5 217.4,836.2 218.1,834.1 218.8,832.2 219.5,830.3 220.3,828.6 221.0,827.1 221.7,825.7 222.4,824.4 223.1,823.3 223.8,822.3 224.6,821.5 225.3,820.7 226.0,820.1 226.7,819.7 227.4,819.4 228.2,819.2 228.9,819.1 229.6,819.2 230.3,819.4 231.0,819.7 231.8,820.1 232.5,820.7 233.2,821.5 233.9,822.3 234.6,823.3 235.4,824.4 236.1,825.7 236.8,827.1 237.5,828.6 238.2,830.3 239.0,832.2 239.7,834.1 240.4,836.2 241.1,838.5 241.8,840.9 242.5,843.5 243.3,846.2 244.0,849.0 244.7,852.0 245.4,855.2 246.1,858.5 246.9,861.9 247.6,865.5 248.3,869.2 249.0,873.1 249.7,877.1 250.5,881.2 251.2,885.5 251.9,889.9 252.6,894.4 253.3,899.0 254.1,903.7 254.8,908.6 255.5,913.5 256.2,918.5 256.9,923.6 257.7,928.7 258.4,933.9 259.1,939.1 259.8,944.4 260.5,949.7 261.2,955.0 262.0,960.3 262.7,965.6 263.4,970.9 264.1,976.1 264.8,981.3 265.6,986.4 266.3,991.4 267.0,996.3 267.7,1001.2 268.4,1005.9 269.2,1010.5 269.9,1014.9 270.6,1019.2 271.3,1023.3 272.0,1027.2 272.8,1031.0 273.5,1034.5 274.2,1037.8 274.9,1040.9 275.6,1043.7 276.4,1046.3 277.1,1048.7 277.8,1050.8 278.5,1052.6 279.2,1054.2 279.9,1055.5 280.7,1056.5 281.4,1057.2 282.1,1057.6 282.8,1057.8 283.5,1057.6 284.3,1057.2 285.0,1056.5 285.7,1055.5 286.4,1054.2 287.1,1052.6 287.9,1050.8 288.6,1048.7 289.3,1046.3 290.0,1043.7 290.7,1040.9 291.5,1037.8 292.2,1034.5 292.9,1031.0 293.6,1027.2 294.3,1023.3 295.1,1019.2 295.8,1014.9 296.5,1010.5 297.2,1005.9 297.9,1001.2 298.6,996.3 299.4,991.4 300.1,986.4 300.8,981.3 301.5,976.1 302.2,970.9 303.0,965.6 303.7,960.3 304.4,955.0 305.1,949.7 305.8,944.4 306.6,939.1 307.3,933.9 308.0,928.7 308.7,923.6 309.4,918.5 310.2,913.5 310.9,908.6 311.6,903.7 312.3,899.0 313.0,894.4 313.8,889.9 314.5,885.5 315.2,881.2 315.9,877.1 316.6,873.1 317.3,869.2 318.1,865.5 318.8,861.9 319.5,858.5 320.2,855.2 320.9,852.0 321.7,849.0 322.4,846.2 323.1,843.5 323.8,840.9 324.5,838.5 325.3,836.2 326.0,834.1 326.7,832.2 327.4,830.3 328.1,828.6 328.9,827.1 329.6,825.7 330.3,824.4 331.0,823.3 331.7,822.3 332.5,821.5 333.2,820.7 333.9,820.1 334.6,819.7 335.3,819.4 336.0,819.2 336.8,819.1 337.5,819.2 338.2,819.4 338.9,819.7 339.6,820.1 340.4,820.7 341.1,821.5 341.8,822.3 342.5,823.3 343.2,824.4 344.0,825.7 344.7,827.1 345.4,828.6 346.1,830.3 346.8,832.2 347.6,834.1 348.3,836.2 349.0,838.5 349.7,840.9 350.4,843.5 351.2,846.2 351.9,849.0 352.6,852.0 353.3,855.2 354.0,858.5 354.7,861.9 355.5,865.5 356.2,869.2 356.9,873.1 357.6,877.1 358.3,881.2 359.1,885.5 359.8,889.9 360.5,894.4 361.2,899.0 361.9,903.7 362.7,908.6 363.4,913.5 364.1,918.5 364.8,923.6 365.5,928.7 366.3,933.9 367.0,939.1 367.7,944.4 368.4,949.7 369.1,955.0 369.9,960.3 370.6,965.6 371.3,970.9 372.0,976.1 372.7,981.3 373.4,986.4 374.2,991.4 374.9,996.3 375.6,1001.2 376.3,1005.9 377.0,1010.5 377.8,1014.9 378.5,1019.2 379.2,1023.3 379.9,1027.2 380.6,1031.0 381.4,1034.5 382.1,1037.8 382.8,1040.9 383.5,1043.7 384.2,1046.3 385.0,1048.7 385.7,1050.8 386.4,1052.6 387.1,1054.2 387.8,1055.5 388.6,1056.5 389.3,1057.2 390.0,1057.6 390.7,1057.8 391.4,1057.6 392.1,1057.2 392.9,1056.5 393.6,1055.5 394.3,1054.2 395.0,1052.6 395.7,1050.8 396.5,1048.7 397.2,1046.3 397.9,1043.7 398.6,1040.9 399.3,1037.8 400.1,1034.5 400.8,1031.0 401.5,1027.2 402.2,1023.3 402.9,1019.2 403.7,1014.9 404.4,1010.5 405.1,1005.9 405.8,1001.2 406.5,996.3 407.3,991.4 408.0,986.4 408.7,981.3 409.4,976.1 410.1,970.9 410.8,965.6 411.6,960.3 412.3,955.0 413.0,949.7 413.7,944.4 414.4,939.1 415.2,933.9 415.9,928.7 416.6,923.6 417.3,918.5 418.0,913.5 418.8,908.6 419.5,903.7 420.2,899.0 420.9,894.4 421.6,889.9 422.4,885.5 423.1,881.2 423.8,877.1 424.5,873.1 425.2,869.2 426.0,865.5 426.7,861.9 427.4,858.5 428.1,855.2 428.8,852.0 429.5,849.0 430.3,846.2 431.0,843.5 431.7,840.9 432.4,838.5 433.1,836.2 433.9,834.1 434.6,832.2 435.3,830.3 436.0,828.6 436.7,827.1 437.5,825.7 438.2,824.4 438.9,823.3 439.6,822.3 440.3,821.5 441.1,820.7 441.8,820.1 442.5,819.7 443.2,819.4 443.9,819.2 444.6,819.1 445.4,819.2 446.1,819.4 446.8,819.7 447.5,820.1 448.2,820.7 449.0,821.5 449.7,822.3 450.4,823.3 451.1,824.4 451.8,825.7 452.6,827.1 453.3,828.6 454.0,830.3 454.7,832.2 455.4,834.1 456.2,836.2 456.9,838.5 457.6,840.9 458.3,843.5 459.0,846.2 459.8,849.0 460.5,852.0 461.2,855.2 461.9,858.5 462.6,861.9 463.3,865.5 464.1,869.2 464.8,873.1 465.5,877.1 466.2,881.2 466.9,885.5 467.7,889.9 468.4,894.4 469.1,899.0 469.8,903.7 470.5,908.6 471.3,913.5 472.0,918.5 472.7,923.6 473.4,928.7 474.1,933.9 474.9,939.1 475.6,944.4 476.3,949.7 477.0,955.0 477.7,960.3 478.5,965.6 479.2,970.9 479.9,976.1 480.6,981.3 481.3,986.4 482.0,991.4 482.8,996.3 483.5,1001.2 484.2,1005.9 484.9,1010.5 485.6,1014.9 486.4,1019.2 487.1,1023.3 487.8,1027.2 488.5,1031.0 489.2,1034.5 490.0,1037.8 490.7,1040.9 491.4,1043.7 492.1,1046.3 492.8,1048.7 493.6,1050.8 494.3,1052.6 495.0,1054.2 495.7,1055.5 496.4,1056.5 497.2,1057.2 497.9,1057.6 498.6,1057.8 499.3,1057.6 500.0,1057.2 500.7,1056.5 501.5,1055.5 502.2,1054.2 502.9,1052.6 503.6,1050.8 504.3,1048.7 505.1,1046.3 505.8,1043.7 506.5,1040.9 507.2,1037.8 507.9,1034.5 508.7,1031.0 509.4,1027.2 510.1,1023.3 510.8,1019.2 511.5,1014.9 512.3,1010.5 513.0,1005.9 513.7,1001.2 514.4,996.3 515.1,991.4 515.9,986.4 516.6,981.3 517.3,976.1 518.0,970.9 518.7,965.6 519.4,960.3 520.2,955.0 520.9,949.7 521.6,944.4 522.3,939.1 523.0,933.9 523.8,928.7 524.5,923.6 525.2,918.5 525.9,913.5 526.6,908.6 527.4,903.7 528.1,899.0 528.8,894.4 529.5,889.9 530.2,885.5 531.0,881.2 531.7,877.1 532.4,873.1 533.1,869.2 533.8,865.5 534.6,861.9 535.3,858.5 536.0,855.2 536.7,852.0 537.4,849.0 538.1,846.2 538.9,843.5 539.6,840.9 540.3,838.5 541.0,836.2 541.7,834.1 542.5,832.2 543.2,830.3 543.9,828.6 544.6,827.1 545.3,825.7 546.1,824.4 546.8,823.3 547.5,822.3 548.2,821.5 548.9,820.7 549.7,820.1 550.4,819.7 551.1,819.4 551.8,819.2 552.5,819.1 553.3,819.2 554.0,819.4 554.7,819.7 555.4,820.1 556.1,820.7 556.8,821.5 557.6,822.3 558.3,823.3 559.0,824.4 559.7,825.7 560.4,827.1 561.2,828.6 561.9,830.3 562.6,832.2 563.3,834.1 564.0,836.2 564.8,838.5 565.5,840.9 566.2,843.5 566.9,846.2 567.6,849.0 568.4,852.0 569.1,855.2 569.8,858.5 570.5,861.9 571.2,865.5 572.0,869.2 572.7,873.1 573.4,877.1 574.1,881.2 574.8,885.5 575.5,889.9 576.3,894.4 577.0,899.0 577.7,903.7 578.4,908.6 579.1,913.5 579.9,918.5 580.6,923.6 581.3,928.7 582.0,933.9 582.7,939.1 583.5,944.4 584.2,949.7 584.9,955.0 585.6,960.3 586.3,965.6 587.1,970.9 587.8,976.1 588.5,981.3 589.2,986.4 589.9,991.4 590.7,996.3 591.4,1001.2 592.1,1005.9 592.8,1010.5 593.5,1014.9 594.2,1019.2 595.0,1023.3 595.7,1027.2 596.4,1031.0 597.1,1034.5 597.8,1037.8 598.6,1040.9 599.3,1043.7 600.0,1046.3 600.7,1048.7 601.4,1050.8 602.2,1052.6 602.9,1054.2 603.6,1055.5 604.3,1056.5 605.0,1057.2 605.8,1057.6 606.5,1057.8 607.2,1057.6 607.9,1057.2 608.6,1056.5 609.4,1055.5 610.1,1054.2 610.8,1052.6 611.5,1050.8 612.2,1048.7 612.9,1046.3 613.7,1043.7 614.4,1040.9 615.1,1037.8 615.8,1034.5 616.5,1031.0 617.3,1027.2 618.0,1023.3 618.7,1019.2 619.4,1014.9 620.1,1010.5 620.9,1005.9 621.6,1001.2 622.3,996.3 623.0,991.4 623.7,986.4 624.5,981.3 625.2,976.1 625.9,970.9 626.6,965.6 627.3,960.3 628.1,955.0 628.8,949.7 629.5,944.4 630.2,939.1 630.9,933.9 631.6,928.7 632.4,923.6 633.1,918.5 633.8,913.5 634.5,908.6 635.2,903.7 636.0,899.0 636.7,894.4 637.4,889.9 638.1,885.5 638.8,881.2 639.6,877.1 640.3,873.1 641.0,869.2 641.7,865.5 642.4,861.9 643.2,858.5 643.9,855.2 644.6,852.0 645.3,849.0 646.0,846.2 646.8,843.5 647.5,840.9 648.2,838.5 648.9,836.2 649.6,834.1 650.3,832.2 651.1,830.3 651.8,828.6 652.5,827.1 653.2,825.7 653.9,824.4 654.7,823.3 655.4,822.3 656.1,821.5 656.8,820.7 657.5,820.1 658.3,819.7 659.0,819.4 659.7,819.2 660.4,819.1 661.1,819.2 661.9,819.4 662.6,819.7 663.3,820.1 664.0,820.7 664.7,821.5 665.5,822.3 666.2,823.3 666.9,824.4 667.6,825.7 668.3,827.1 669.0,828.6 669.8,830.3 670.5,832.2 671.2,834.1 671.9,836.2 672.6,838.5 673.4,840.9 674.1,843.5 674.8,846.2 675.5,849.0 676.2,852.0 677.0,855.2 677.7,858.5 678.4,861.9 679.1,865.5 679.8,869.2 680.6,873.1 681.3,877.1 682.0,881.2 682.7,885.5 683.4,889.9 684.2,894.4 684.9,899.0 685.6,903.7 686.3,908.6 687.0,913.5 687.7,918.5 688.5,923.6 689.2,928.7 689.9,933.9 690.6,939.1 691.3,944.4 692.1,949.7 692.8,955.0 693.5,960.3 694.2,965.6 694.9,970.9 695.7,976.1 696.4,981.3 697.1,986.4 697.8,991.4 698.5,996.3 699.3,1001.2 700.0,1005.9 700.7,1010.5 701.4,1014.9 702.1,1019.2 702.9,1023.3 703.6,1027.2 704.3,1031.0 705.0,1034.5 705.7,1037.8 706.4,1040.9 707.2,1043.7 707.9,1046.3 708.6,1048.7 709.3,1050.8 710.0,1052.6 710.8,1054.2 711.5,1055.5 712.2,1056.5 712.9,1057.2 713.6,1057.6 714.4,1057.8 715.1,1057.6 715.8,1057.2 716.5,1056.5 717.2,1055.5 718.0,1054.2 718.7,1052.6 719.4,1050.8 720.1,1048.7 720.8,1046.3 721.6,1043.7 722.3,1040.9 723.0,1037.8 723.7,1034.5 724.4,1031.0 725.1,1027.2 725.9,1023.3 726.6,1019.2 727.3,1014.9 728.0,1010.5 728.7,1005.9 729.5,1001.2 730.2,996.3 730.9,991.4 731.6,986.4 732.3,981.3 733.1,976.1 733.8,970.9 734.5,965.6 735.2,960.3 735.9,955.0 736.7,949.7 737.4,944.4 738.1,939.1 738.8,933.9 739.5,928.7 740.3,923.6 741.0,918.5 741.7,913.5 742.4,908.6 743.1,903.7 743.8,899.0 744.6,894.4 745.3,889.9 746.0,885.5 746.7,881.2 747.4,877.1 748.2,873.1 748.9,869.2 749.6,865.5 750.3,861.9 751.0,858.5 751.8,855.2 752.5,852.0 753.2,849.0 753.9,846.2 754.6,843.5 755.4,840.9 756.1,838.5 756.8,836.2 757.5,834.1 758.2,832.2 759.0,830.3 759.7,828.6 760.4,827.1 761.1,825.7 761.8,824.4 762.5,823.3 763.3,822.3 764.0,821.5 764.7,820.7 765.4,820.1 766.1,819.7 766.9,819.4 767.6,819.2 768.3,819.1"/>
</g>
<g stroke="#4a4a4a" stroke-width="3.0">
<line x1="228.883" y1="1137.6" x2="228.883" y2="1129.6"/>
<line x1="228.883" y1="645.1" x2="228.883" y2="653.1"/>
<line x1="336.767" y1="1137.6" x2="336.767" y2="1129.6"/>
<line x1="336.767" y1="645.1" x2="336.767" y2="653.1"/>
<line x1="444.65" y1="1137.6" x2="444.65" y2="1129.6"/>
<line x1="444.65" y1="645.1" x2="444.65" y2="653.1"/>
<line x1="552.533" y1="1137.6" x2="552.533" y2="1129.6"/>
<line x1="552.533" y1="645.1" x2="552.533" y2="653.1"/>
<line x1="660.417" y1="1137.6" x2="660.417" y2="1129.6"/>
<line x1="660.417" y1="645.1" x2="660.417" y2="653.1"/>
<line x1="121.0" y1="743.6" x2="129" y2="743.6"/>
<line x1="768.3" y1="743.6" x2="760.3" y2="743.6"/>
<line x1="121.0" y1="842.1" x2="129" y2="842.1"/>
<line x1="768.3" y1="842.1" x2="760.3" y2="842.1"/>
<line x1="121.0" y1="940.6" x2="129" y2="940.6"/>
<line x1="768.3" y1="940.6" x2="760.3" y2="940.6"/>
<line x1="121.0" y1="1039.1" x2="129" y2="1039.1"/>
<line x1="768.3" y1="1039.1" x2="760.3" y2="1039.1"/>
</g>
<rect x="121.0" y="645.1" width="647.3" height="492.5" fill="none" stroke="#4a4a4a" stroke-width="3.4"/>
<g fill="none" stroke-width="3.3">
<line x1="433.8" y1="60.1" x2="476.9" y2="60.1" stroke="#e60012"/>
<line x1="433.8" y1="99.1" x2="476.9" y2="99.1" stroke="#233f99" stroke-dasharray="12.3 8.2"/>
<line x1="433.8" y1="138.3" x2="476.9" y2="138.3" stroke="#231815" stroke-dasharray="4.5 7.9"/>
</g>
<g fill="none" stroke-width="3.3">
<line x1="421.1" y1="685.4" x2="464.4" y2="685.4" stroke="#e60012"/>
<line x1="421.1" y1="724.5" x2="464.4" y2="724.5" stroke="#233f99" stroke-dasharray="12.3 8.2"/>
<line x1="421.1" y1="763.3" x2="464.4" y2="763.3" stroke="#231815" stroke-dasharray="4.5 7.9"/>
</g>
<g font-family="'Liberation Serif', 'DejaVu Serif', serif" fill="#111" stroke="#fff" stroke-width="0.2" text-rendering="geometricPrecision">
<text transform="translate(64.138 28.695) scale(1.16 1)" font-size="33.676">0.5</text>
<text transform="translate(64.17 127.235) scale(1.136 1)" font-size="33.676">0.4</text>
<text transform="translate(64.138 225.775) scale(1.16 1)" font-size="33.676">0.3</text>
<text transform="translate(64.117 324.315) scale(1.175 1)" font-size="33.676">0.2</text>
<text transform="translate(64.159 422.855) scale(1.144 1)" font-size="33.676">0.1</text>
<text transform="translate(93.529 521.561) scale(1.158 1)" font-size="33.926">0</text>
<text transform="translate(60.151 655.995) scale(1.15 1)" font-size="33.676">0.6</text>
<text transform="translate(60.138 754.495) scale(1.16 1)" font-size="33.676">0.5</text>
<text transform="translate(60.17 852.995) scale(1.136 1)" font-size="33.676">0.4</text>
<text transform="translate(60.138 951.495) scale(1.16 1)" font-size="33.676">0.3</text>
<text transform="translate(60.117 1049.995) scale(1.175 1)" font-size="33.676">0.2</text>
<text transform="translate(60.159 1148.495) scale(1.144 1)" font-size="33.676">0.1</text>
<text transform="translate(113.519 545.761) scale(1.165 1)" font-size="33.926">0</text>
<text transform="translate(232.244 545.595) scale(1.155 1)" font-size="33.676">0.5</text>
<text transform="translate(356.081 545.595) scale(1.095 1)" font-size="33.676">1.0</text>
<text transform="translate(491.48 545.591) scale(1.153 1)" font-size="33.926">1.5</text>
<text transform="translate(614.685 545.595) scale(1.132 1)" font-size="33.676">2.0</text>
<text transform="translate(750.708 545.591) scale(1.108 1)" font-size="33.926">2.5</text>
<text transform="translate(113.519 1172.662) scale(1.17 1)" font-size="33.778">0</text>
<text transform="translate(210.424 1172.497) scale(1.175 1)" font-size="33.529">0.5</text>
<text transform="translate(312.08 1172.497) scale(1.166 1)" font-size="33.529">1.0</text>
<text transform="translate(425.94 1172.493) scale(1.171 1)" font-size="33.778">1.5</text>
<text transform="translate(529.008 1172.497) scale(1.121 1)" font-size="33.529">2.0</text>
<text transform="translate(642.577 1172.493) scale(1.133 1)" font-size="33.778">2.5</text>
<text transform="translate(744.526 1172.497) scale(1.178 1)" font-size="33.529">3.0</text>
<text transform="translate(419.093 593.664) scale(1.193 1)" font-size="33.63">50</text>
<text transform="translate(458.12 593.623) scale(1.167 1)" font-size="37.719" style="font-style:italic">t</text>
<text transform="translate(423.949 1217.867) scale(1.167 1)" font-size="33.333">60</text>
<text transform="translate(461.584 1217.833) scale(1.222 1)" font-size="36.667" style="font-style:italic">t</text>
<text transform="translate(148.341 64.713) scale(0.982 1)" font-size="37.556">(</text>
<text transform="translate(162.011 63.769) scale(1.284 1)" font-size="33.125">a</text>
<text transform="translate(181.515 64.713) scale(0.963 1)" font-size="37.556">)</text>
<text transform="translate(143.941 691.913) scale(0.982 1)" font-size="37.556">(</text>
<text transform="translate(159 691.07) scale(1.204 1)" font-size="33.05">b</text>
<text transform="translate(179.615 691.913) scale(0.963 1)" font-size="37.556">)</text>
<text transform="translate(28.851 462.609) rotate(-90) scale(1.158 1)" font-size="34.925">Transmission</text>
<text transform="translate(28.69 230.924) rotate(-90) scale(0.958 1)" font-size="37.667">(</text>
<text transform="translate(28.708 218.301) rotate(-90) scale(1.307 1)" font-size="32.817">arb.</text>
<text transform="translate(28.852 138.932) rotate(-90) scale(1.212 1)" font-size="34.776">units</text>
<text transform="translate(28.63 55.838) rotate(-90) scale(0.936 1)" font-size="37">)</text>
<text transform="translate(28.851 1103.009) rotate(-90) scale(1.158 1)" font-size="34.925">Transmission</text>
<text transform="translate(28.69 871.324) rotate(-90) scale(0.958 1)" font-size="37.667">(</text>
<text transform="translate(28.708 858.701) rotate(-90) scale(1.307 1)" font-size="32.817">arb.</text>
<text transform="translate(28.852 779.332) rotate(-90) scale(1.212 1)" font-size="34.776">units</text>
<text transform="translate(28.63 696.238) rotate(-90) scale(0.936 1)" font-size="37">)</text>
<text transform="translate(489.838 65.583) scale(1.203 1)" font-size="31.667" style="font-style:italic">ε</text>
<text transform="translate(505.714 71.461) scale(1.138 1)" font-size="23.852">0</text>
<text transform="translate(525.444 69.257) scale(1.496 1)" font-size="35.51">=</text>
<text transform="translate(561.624 66.306) scale(1.196 1)" font-size="32.941">0.3</text>
<text transform="translate(624.016 66.287) scale(1.124 1)" font-size="34.179">V</text>
<text transform="translate(653.4 73.309) scale(1.103 1)" font-size="49.104">/</text>
<text transform="translate(670.248 65.981) scale(1.217 1)" font-size="31.875">cm</text>
<text transform="translate(489.838 105.883) scale(1.203 1)" font-size="31.667" style="font-style:italic">ε</text>
<text transform="translate(505.714 111.761) scale(1.138 1)" font-size="23.852">0</text>
<text transform="translate(525.444 109.557) scale(1.496 1)" font-size="35.51">=</text>
<text transform="translate(561.624 106.606) scale(1.196 1)" font-size="32.941">0.5</text>
<text transform="translate(624.016 106.587) scale(1.124 1)" font-size="34.179">V</text>
<text transform="translate(653.4 113.609) scale(1.103 1)" font-size="49.104">/</text>
<text transform="translate(670.248 106.281) scale(1.217 1)" font-size="31.875">cm</text>
<text transform="translate(489.838 146.383) scale(1.203 1)" font-size="31.667" style="font-style:italic">ε</text>
<text transform="translate(505.714 152.261) scale(1.138 1)" font-size="23.852">0</text>
<text transform="translate(525.444 150.057) scale(1.496 1)" font-size="35.51">=</text>
<text transform="translate(561.624 147.106) scale(1.196 1)" font-size="32.941">0.8</text>
<text transform="translate(624.016 147.087) scale(1.124 1)" font-size="34.179">V</text>
<text transform="translate(653.4 154.109) scale(1.103 1)" font-size="49.104">/</text>
<text transform="translate(670.248 146.781) scale(1.217 1)" font-size="31.875">cm</text>
<text transform="translate(477.838 690.583) scale(1.203 1)" font-size="31.667" style="font-style:italic">ε</text>
<text transform="translate(493.714 696.461) scale(1.138 1)" font-size="23.852">0</text>
<text transform="translate(513.444 694.257) scale(1.496 1)" font-size="35.51">=</text>
<text transform="translate(549.624 691.306) scale(1.196 1)" font-size="32.941">0.3</text>
<text transform="translate(612.016 691.287) scale(1.124 1)" font-size="34.179">V</text>
<text transform="translate(641.4 698.309) scale(1.103 1)" font-size="49.104">/</text>
<text transform="translate(658.248 690.981) scale(1.217 1)" font-size="31.875">cm</text>
<text transform="translate(477.838 730.883) scale(1.203 1)" font-size="31.667" style="font-style:italic">ε</text>
<text transform="translate(493.714 736.761) scale(1.138 1)" font-size="23.852">0</text>
<text transform="translate(513.444 734.557) scale(1.496 1)" font-size="35.51">=</text>
<text transform="translate(549.624 731.606) scale(1.196 1)" font-size="32.941">0.5</text>
<text transform="translate(612.016 731.587) scale(1.124 1)" font-size="34.179">V</text>
<text transform="translate(641.4 738.609) scale(1.103 1)" font-size="49.104">/</text>
<text transform="translate(658.248 731.281) scale(1.217 1)" font-size="31.875">cm</text>
<text transform="translate(477.838 771.383) scale(1.203 1)" font-size="31.667" style="font-style:italic">ε</text>
<text transform="translate(493.714 777.261) scale(1.138 1)" font-size="23.852">0</text>
<text transform="translate(513.444 775.057) scale(1.496 1)" font-size="35.51">=</text>
<text transform="translate(549.624 772.106) scale(1.196 1)" font-size="32.941">0.8</text>
<text transform="translate(612.016 772.087) scale(1.124 1)" font-size="34.179">V</text>
<text transform="translate(641.4 779.109) scale(1.103 1)" font-size="49.104">/</text>
<text transform="translate(658.248 771.781) scale(1.217 1)" font-size="31.875">cm</text>
</g>
</svg>
</body></html>
